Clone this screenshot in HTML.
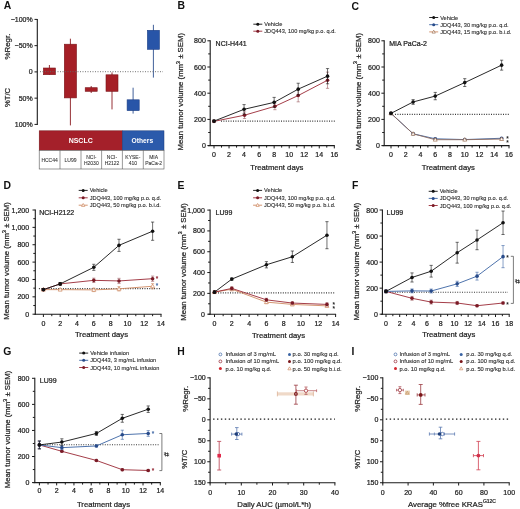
<!DOCTYPE html>
<html><head><meta charset="utf-8"><style>
html,body{margin:0;padding:0;background:#fff;}
body{width:520px;height:509px;overflow:hidden;font-family:"Liberation Sans", sans-serif;}
svg{display:block;will-change:transform;}

</style></head><body>
<svg width="520" height="509" viewBox="0 0 520 509" font-family='"Liberation Sans", sans-serif'>
<rect width="520" height="509" fill="#fff"/>
<text x="3.70" y="9.46" font-size="10.4" font-weight="bold" fill="#111">A</text>
<line x1="37.30" y1="18.90" x2="37.30" y2="124.90" stroke="#1a1a1a" stroke-width="1.1" stroke-linecap="butt"/>
<line x1="34.50" y1="19.40" x2="37.30" y2="19.40" stroke="#1a1a1a" stroke-width="1.0" stroke-linecap="butt"/>
<text x="32.70" y="21.92" font-size="7.0" text-anchor="end" font-weight="normal" fill="#222222" stroke="#222222" stroke-width="0.22">−100%</text>
<line x1="34.50" y1="45.65" x2="37.30" y2="45.65" stroke="#1a1a1a" stroke-width="1.0" stroke-linecap="butt"/>
<text x="32.70" y="48.17" font-size="7.0" text-anchor="end" font-weight="normal" fill="#222222" stroke="#222222" stroke-width="0.22">−50%</text>
<line x1="34.50" y1="71.90" x2="37.30" y2="71.90" stroke="#1a1a1a" stroke-width="1.0" stroke-linecap="butt"/>
<text x="32.70" y="74.42" font-size="7.0" text-anchor="end" font-weight="normal" fill="#222222" stroke="#222222" stroke-width="0.22">0</text>
<line x1="34.50" y1="98.15" x2="37.30" y2="98.15" stroke="#1a1a1a" stroke-width="1.0" stroke-linecap="butt"/>
<text x="32.70" y="100.67" font-size="7.0" text-anchor="end" font-weight="normal" fill="#222222" stroke="#222222" stroke-width="0.22">50%</text>
<line x1="34.50" y1="124.40" x2="37.30" y2="124.40" stroke="#1a1a1a" stroke-width="1.0" stroke-linecap="butt"/>
<text x="32.70" y="126.92" font-size="7.0" text-anchor="end" font-weight="normal" fill="#222222" stroke="#222222" stroke-width="0.22">100%</text>
<text x="7.30" y="49.44" font-size="7.9" text-anchor="middle" font-weight="normal" fill="#222222" stroke="#222222" stroke-width="0.22" transform="rotate(-90 7.30 46.60)">%Regr.</text>
<text x="7.30" y="100.24" font-size="7.6" text-anchor="middle" font-weight="normal" fill="#222222" stroke="#222222" stroke-width="0.22" transform="rotate(-90 7.30 97.50)">%T/C</text>
<line x1="49.40" y1="65.00" x2="49.40" y2="74.70" stroke="#8a1a20" stroke-width="0.9" stroke-linecap="butt"/>
<rect x="43.40" y="68.00" width="12.00" height="6.70" fill="#a51f26" stroke="#7a1519" stroke-width="0.6"/>
<line x1="70.40" y1="38.70" x2="70.40" y2="125.40" stroke="#8a1a20" stroke-width="0.9" stroke-linecap="butt"/>
<rect x="64.30" y="44.20" width="12.20" height="53.70" fill="#a51f26" stroke="#7a1519" stroke-width="0.6"/>
<line x1="91.20" y1="86.00" x2="91.20" y2="93.00" stroke="#8a1a20" stroke-width="0.9" stroke-linecap="butt"/>
<rect x="85.20" y="87.70" width="12.00" height="3.60" fill="#a51f26" stroke="#7a1519" stroke-width="0.6"/>
<line x1="112.00" y1="72.40" x2="112.00" y2="109.40" stroke="#8a1a20" stroke-width="0.9" stroke-linecap="butt"/>
<rect x="106.00" y="74.80" width="12.00" height="16.50" fill="#a51f26" stroke="#7a1519" stroke-width="0.6"/>
<line x1="133.10" y1="87.70" x2="133.10" y2="113.60" stroke="#2d4f8f" stroke-width="0.9" stroke-linecap="butt"/>
<rect x="127.10" y="99.80" width="12.10" height="10.80" fill="#2855a8" stroke="#1c3f85" stroke-width="0.6"/>
<line x1="153.40" y1="24.80" x2="153.40" y2="77.60" stroke="#2d4f8f" stroke-width="0.9" stroke-linecap="butt"/>
<rect x="147.40" y="30.30" width="12.00" height="19.00" fill="#2855a8" stroke="#1c3f85" stroke-width="0.6"/>
<line x1="40.00" y1="71.70" x2="163.00" y2="71.70" stroke="#666" stroke-width="0.9" stroke-linecap="butt" stroke-dasharray="1,1.5"/>
<rect x="39.20" y="130.80" width="83.10" height="19.50" fill="#a4202a" stroke="#6e1015" stroke-width="0.5"/>
<rect x="122.30" y="130.80" width="41.70" height="19.50" fill="#2b5aab" stroke="#1b3a78" stroke-width="0.5"/>
<text x="80.70" y="143.12" font-size="7.0" text-anchor="middle" font-weight="bold" fill="#fff" stroke="#fff" stroke-width="0">NSCLC</text>
<text x="142.40" y="142.81" font-size="6.7" text-anchor="middle" font-weight="bold" fill="#fff" stroke="#fff" stroke-width="0">Others</text>
<rect x="39.20" y="150.30" width="124.80" height="18.70" fill="#fff" stroke="#555" stroke-width="0.6"/>
<line x1="60.00" y1="150.30" x2="60.00" y2="169.00" stroke="#555" stroke-width="0.6" stroke-linecap="butt"/>
<line x1="81.00" y1="150.30" x2="81.00" y2="169.00" stroke="#555" stroke-width="0.6" stroke-linecap="butt"/>
<line x1="101.60" y1="150.30" x2="101.60" y2="169.00" stroke="#555" stroke-width="0.6" stroke-linecap="butt"/>
<line x1="122.40" y1="150.30" x2="122.40" y2="169.00" stroke="#555" stroke-width="0.6" stroke-linecap="butt"/>
<line x1="143.30" y1="150.30" x2="143.30" y2="169.00" stroke="#555" stroke-width="0.6" stroke-linecap="butt"/>
<text x="49.60" y="161.80" font-size="5.0" text-anchor="middle" font-weight="normal" fill="#333" stroke="#333" stroke-width="0.08">HCC44</text>
<text x="70.50" y="161.80" font-size="5.0" text-anchor="middle" font-weight="normal" fill="#333" stroke="#333" stroke-width="0.08">LU99</text>
<text x="91.30" y="158.80" font-size="5.0" text-anchor="middle" font-weight="normal" fill="#333" stroke="#333" stroke-width="0.08">NCI-</text>
<text x="91.30" y="164.60" font-size="5.0" text-anchor="middle" font-weight="normal" fill="#333" stroke="#333" stroke-width="0.08">H2030</text>
<text x="112.00" y="158.80" font-size="5.0" text-anchor="middle" font-weight="normal" fill="#333" stroke="#333" stroke-width="0.08">NCI-</text>
<text x="112.00" y="164.60" font-size="5.0" text-anchor="middle" font-weight="normal" fill="#333" stroke="#333" stroke-width="0.08">H2122</text>
<text x="132.85" y="158.80" font-size="5.0" text-anchor="middle" font-weight="normal" fill="#333" stroke="#333" stroke-width="0.08">KYSE-</text>
<text x="132.85" y="164.60" font-size="5.0" text-anchor="middle" font-weight="normal" fill="#333" stroke="#333" stroke-width="0.08">410</text>
<text x="153.65" y="158.80" font-size="5.0" text-anchor="middle" font-weight="normal" fill="#333" stroke="#333" stroke-width="0.08">MIA</text>
<text x="153.65" y="164.60" font-size="5.0" text-anchor="middle" font-weight="normal" fill="#333" stroke="#333" stroke-width="0.08">PaCa-2</text>
<text x="177.50" y="9.46" font-size="10.4" font-weight="bold" fill="#111">B</text>
<line x1="210.20" y1="40.30" x2="210.20" y2="146.10" stroke="#1a1a1a" stroke-width="1.1" stroke-linecap="butt"/>
<line x1="207.90" y1="145.60" x2="334.80" y2="145.60" stroke="#1a1a1a" stroke-width="1.1" stroke-linecap="butt"/>
<line x1="207.40" y1="145.60" x2="210.20" y2="145.60" stroke="#1a1a1a" stroke-width="1.0" stroke-linecap="butt"/>
<text x="205.80" y="148.12" font-size="7.0" text-anchor="end" font-weight="normal" fill="#222222" stroke="#222222" stroke-width="0.22">0</text>
<line x1="208.20" y1="132.50" x2="210.20" y2="132.50" stroke="#1a1a1a" stroke-width="1.0" stroke-linecap="butt"/>
<line x1="207.40" y1="119.40" x2="210.20" y2="119.40" stroke="#1a1a1a" stroke-width="1.0" stroke-linecap="butt"/>
<text x="205.80" y="121.92" font-size="7.0" text-anchor="end" font-weight="normal" fill="#222222" stroke="#222222" stroke-width="0.22">200</text>
<line x1="208.20" y1="106.30" x2="210.20" y2="106.30" stroke="#1a1a1a" stroke-width="1.0" stroke-linecap="butt"/>
<line x1="207.40" y1="93.20" x2="210.20" y2="93.20" stroke="#1a1a1a" stroke-width="1.0" stroke-linecap="butt"/>
<text x="205.80" y="95.72" font-size="7.0" text-anchor="end" font-weight="normal" fill="#222222" stroke="#222222" stroke-width="0.22">400</text>
<line x1="208.20" y1="80.10" x2="210.20" y2="80.10" stroke="#1a1a1a" stroke-width="1.0" stroke-linecap="butt"/>
<line x1="207.40" y1="67.00" x2="210.20" y2="67.00" stroke="#1a1a1a" stroke-width="1.0" stroke-linecap="butt"/>
<text x="205.80" y="69.52" font-size="7.0" text-anchor="end" font-weight="normal" fill="#222222" stroke="#222222" stroke-width="0.22">600</text>
<line x1="208.20" y1="53.90" x2="210.20" y2="53.90" stroke="#1a1a1a" stroke-width="1.0" stroke-linecap="butt"/>
<line x1="207.40" y1="40.80" x2="210.20" y2="40.80" stroke="#1a1a1a" stroke-width="1.0" stroke-linecap="butt"/>
<text x="205.80" y="43.32" font-size="7.0" text-anchor="end" font-weight="normal" fill="#222222" stroke="#222222" stroke-width="0.22">800</text>
<line x1="214.00" y1="145.60" x2="214.00" y2="148.40" stroke="#1a1a1a" stroke-width="1.0" stroke-linecap="butt"/>
<text x="214.00" y="157.12" font-size="7.0" text-anchor="middle" font-weight="normal" fill="#222222" stroke="#222222" stroke-width="0.22">0</text>
<line x1="221.52" y1="145.60" x2="221.52" y2="147.60" stroke="#1a1a1a" stroke-width="1.0" stroke-linecap="butt"/>
<line x1="229.04" y1="145.60" x2="229.04" y2="148.40" stroke="#1a1a1a" stroke-width="1.0" stroke-linecap="butt"/>
<text x="229.04" y="157.12" font-size="7.0" text-anchor="middle" font-weight="normal" fill="#222222" stroke="#222222" stroke-width="0.22">2</text>
<line x1="236.56" y1="145.60" x2="236.56" y2="147.60" stroke="#1a1a1a" stroke-width="1.0" stroke-linecap="butt"/>
<line x1="244.07" y1="145.60" x2="244.07" y2="148.40" stroke="#1a1a1a" stroke-width="1.0" stroke-linecap="butt"/>
<text x="244.07" y="157.12" font-size="7.0" text-anchor="middle" font-weight="normal" fill="#222222" stroke="#222222" stroke-width="0.22">4</text>
<line x1="251.59" y1="145.60" x2="251.59" y2="147.60" stroke="#1a1a1a" stroke-width="1.0" stroke-linecap="butt"/>
<line x1="259.11" y1="145.60" x2="259.11" y2="148.40" stroke="#1a1a1a" stroke-width="1.0" stroke-linecap="butt"/>
<text x="259.11" y="157.12" font-size="7.0" text-anchor="middle" font-weight="normal" fill="#222222" stroke="#222222" stroke-width="0.22">6</text>
<line x1="266.63" y1="145.60" x2="266.63" y2="147.60" stroke="#1a1a1a" stroke-width="1.0" stroke-linecap="butt"/>
<line x1="274.15" y1="145.60" x2="274.15" y2="148.40" stroke="#1a1a1a" stroke-width="1.0" stroke-linecap="butt"/>
<text x="274.15" y="157.12" font-size="7.0" text-anchor="middle" font-weight="normal" fill="#222222" stroke="#222222" stroke-width="0.22">8</text>
<line x1="281.67" y1="145.60" x2="281.67" y2="147.60" stroke="#1a1a1a" stroke-width="1.0" stroke-linecap="butt"/>
<line x1="289.19" y1="145.60" x2="289.19" y2="148.40" stroke="#1a1a1a" stroke-width="1.0" stroke-linecap="butt"/>
<text x="289.19" y="157.12" font-size="7.0" text-anchor="middle" font-weight="normal" fill="#222222" stroke="#222222" stroke-width="0.22">10</text>
<line x1="296.71" y1="145.60" x2="296.71" y2="147.60" stroke="#1a1a1a" stroke-width="1.0" stroke-linecap="butt"/>
<line x1="304.23" y1="145.60" x2="304.23" y2="148.40" stroke="#1a1a1a" stroke-width="1.0" stroke-linecap="butt"/>
<text x="304.23" y="157.12" font-size="7.0" text-anchor="middle" font-weight="normal" fill="#222222" stroke="#222222" stroke-width="0.22">12</text>
<line x1="311.74" y1="145.60" x2="311.74" y2="147.60" stroke="#1a1a1a" stroke-width="1.0" stroke-linecap="butt"/>
<line x1="319.26" y1="145.60" x2="319.26" y2="148.40" stroke="#1a1a1a" stroke-width="1.0" stroke-linecap="butt"/>
<text x="319.26" y="157.12" font-size="7.0" text-anchor="middle" font-weight="normal" fill="#222222" stroke="#222222" stroke-width="0.22">14</text>
<line x1="326.78" y1="145.60" x2="326.78" y2="147.60" stroke="#1a1a1a" stroke-width="1.0" stroke-linecap="butt"/>
<line x1="334.30" y1="145.60" x2="334.30" y2="148.40" stroke="#1a1a1a" stroke-width="1.0" stroke-linecap="butt"/>
<text x="334.30" y="157.12" font-size="7.0" text-anchor="middle" font-weight="normal" fill="#222222" stroke="#222222" stroke-width="0.22">16</text>
<text x="180.40" y="94.51" font-size="7.8" text-anchor="middle" font-weight="normal" fill="#222222" stroke="#222222" stroke-width="0.22" transform="rotate(-90 180.40 91.70)">Mean tumor volume (mm<tspan font-size="5.2" dy="-3.2">3</tspan><tspan dy="3.2"> ± SEM)</tspan></text>
<text x="276.80" y="169.60" font-size="7.7" text-anchor="middle" font-weight="normal" fill="#222222" stroke="#222222" stroke-width="0.22">Treatment days</text>
<text x="215.60" y="45.92" font-size="7.0" text-anchor="start" font-weight="normal" fill="#222222" stroke="#222222" stroke-width="0.22">NCI-H441</text>
<line x1="221.00" y1="121.10" x2="335.00" y2="121.10" stroke="#3a3a3a" stroke-width="1.1" stroke-linecap="butt" stroke-dasharray="1,1.4"/>
<polyline points="214.00,121.36 244.53,115.21 274.90,106.30 298.21,95.56 327.53,80.23" fill="none" stroke="#9a2834" stroke-width="0.9"/>
<line x1="214.00" y1="120.32" x2="214.00" y2="122.41" stroke="#9a5a60" stroke-width="0.6" stroke-linecap="butt"/>
<line x1="212.40" y1="120.32" x2="215.60" y2="120.32" stroke="#9a5a60" stroke-width="0.6" stroke-linecap="butt"/>
<line x1="212.40" y1="122.41" x2="215.60" y2="122.41" stroke="#9a5a60" stroke-width="0.6" stroke-linecap="butt"/>
<line x1="244.53" y1="111.93" x2="244.53" y2="118.48" stroke="#9a5a60" stroke-width="0.6" stroke-linecap="butt"/>
<line x1="242.93" y1="111.93" x2="246.13" y2="111.93" stroke="#9a5a60" stroke-width="0.6" stroke-linecap="butt"/>
<line x1="242.93" y1="118.48" x2="246.13" y2="118.48" stroke="#9a5a60" stroke-width="0.6" stroke-linecap="butt"/>
<line x1="274.90" y1="102.89" x2="274.90" y2="109.71" stroke="#9a5a60" stroke-width="0.6" stroke-linecap="butt"/>
<line x1="273.30" y1="102.89" x2="276.50" y2="102.89" stroke="#9a5a60" stroke-width="0.6" stroke-linecap="butt"/>
<line x1="273.30" y1="109.71" x2="276.50" y2="109.71" stroke="#9a5a60" stroke-width="0.6" stroke-linecap="butt"/>
<line x1="298.21" y1="89.27" x2="298.21" y2="101.85" stroke="#9a5a60" stroke-width="0.6" stroke-linecap="butt"/>
<line x1="296.61" y1="89.27" x2="299.81" y2="89.27" stroke="#9a5a60" stroke-width="0.6" stroke-linecap="butt"/>
<line x1="296.61" y1="101.85" x2="299.81" y2="101.85" stroke="#9a5a60" stroke-width="0.6" stroke-linecap="butt"/>
<line x1="327.53" y1="72.11" x2="327.53" y2="88.35" stroke="#9a5a60" stroke-width="0.6" stroke-linecap="butt"/>
<line x1="325.93" y1="72.11" x2="329.13" y2="72.11" stroke="#9a5a60" stroke-width="0.6" stroke-linecap="butt"/>
<line x1="325.93" y1="88.35" x2="329.13" y2="88.35" stroke="#9a5a60" stroke-width="0.6" stroke-linecap="butt"/>
<circle cx="214.00" cy="121.36" r="1.8" fill="#7a1a26"/>
<circle cx="244.53" cy="115.21" r="1.8" fill="#7a1a26"/>
<circle cx="274.90" cy="106.30" r="1.8" fill="#7a1a26"/>
<circle cx="298.21" cy="95.56" r="1.8" fill="#7a1a26"/>
<circle cx="327.53" cy="80.23" r="1.8" fill="#7a1a26"/>
<polyline points="214.00,121.10 244.07,109.31 274.15,102.37 298.21,89.14 327.53,76.17" fill="none" stroke="#111111" stroke-width="0.9"/>
<line x1="214.00" y1="120.05" x2="214.00" y2="122.15" stroke="#111111" stroke-width="0.6" stroke-linecap="butt"/>
<line x1="212.40" y1="120.05" x2="215.60" y2="120.05" stroke="#111111" stroke-width="0.6" stroke-linecap="butt"/>
<line x1="212.40" y1="122.15" x2="215.60" y2="122.15" stroke="#111111" stroke-width="0.6" stroke-linecap="butt"/>
<line x1="244.07" y1="104.60" x2="244.07" y2="114.03" stroke="#111111" stroke-width="0.6" stroke-linecap="butt"/>
<line x1="242.47" y1="104.60" x2="245.67" y2="104.60" stroke="#111111" stroke-width="0.6" stroke-linecap="butt"/>
<line x1="242.47" y1="114.03" x2="245.67" y2="114.03" stroke="#111111" stroke-width="0.6" stroke-linecap="butt"/>
<line x1="274.15" y1="97.39" x2="274.15" y2="107.35" stroke="#111111" stroke-width="0.6" stroke-linecap="butt"/>
<line x1="272.55" y1="97.39" x2="275.75" y2="97.39" stroke="#111111" stroke-width="0.6" stroke-linecap="butt"/>
<line x1="272.55" y1="107.35" x2="275.75" y2="107.35" stroke="#111111" stroke-width="0.6" stroke-linecap="butt"/>
<line x1="298.21" y1="83.24" x2="298.21" y2="95.03" stroke="#111111" stroke-width="0.6" stroke-linecap="butt"/>
<line x1="296.61" y1="83.24" x2="299.81" y2="83.24" stroke="#111111" stroke-width="0.6" stroke-linecap="butt"/>
<line x1="296.61" y1="95.03" x2="299.81" y2="95.03" stroke="#111111" stroke-width="0.6" stroke-linecap="butt"/>
<line x1="327.53" y1="68.57" x2="327.53" y2="83.77" stroke="#111111" stroke-width="0.6" stroke-linecap="butt"/>
<line x1="325.93" y1="68.57" x2="329.13" y2="68.57" stroke="#111111" stroke-width="0.6" stroke-linecap="butt"/>
<line x1="325.93" y1="83.77" x2="329.13" y2="83.77" stroke="#111111" stroke-width="0.6" stroke-linecap="butt"/>
<circle cx="214.00" cy="121.10" r="1.8" fill="#111111"/>
<circle cx="244.07" cy="109.31" r="1.8" fill="#111111"/>
<circle cx="274.15" cy="102.37" r="1.8" fill="#111111"/>
<circle cx="298.21" cy="89.14" r="1.8" fill="#111111"/>
<circle cx="327.53" cy="76.17" r="1.8" fill="#111111"/>
<line x1="253.30" y1="24.20" x2="262.30" y2="24.20" stroke="#111111" stroke-width="0.9" stroke-linecap="butt"/>
<circle cx="257.80" cy="24.20" r="1.5" fill="#111111"/>
<text x="264.30" y="26.22" font-size="5.6" text-anchor="start" font-weight="normal" fill="#2e2e2e" stroke="#2e2e2e" stroke-width="0.12">Vehicle</text>
<line x1="253.30" y1="31.20" x2="262.30" y2="31.20" stroke="#9a2834" stroke-width="0.9" stroke-linecap="butt"/>
<circle cx="257.80" cy="31.20" r="1.5" fill="#7a1a26"/>
<text x="264.30" y="33.22" font-size="5.6" text-anchor="start" font-weight="normal" fill="#2e2e2e" stroke="#2e2e2e" stroke-width="0.12">JDQ443, 100 mg/kg p.o. q.d.</text>
<text x="351.60" y="9.76" font-size="10.4" font-weight="bold" fill="#111">C</text>
<line x1="384.20" y1="40.30" x2="384.20" y2="146.10" stroke="#1a1a1a" stroke-width="1.1" stroke-linecap="butt"/>
<line x1="382.50" y1="145.60" x2="509.50" y2="145.60" stroke="#1a1a1a" stroke-width="1.1" stroke-linecap="butt"/>
<line x1="381.40" y1="145.60" x2="384.20" y2="145.60" stroke="#1a1a1a" stroke-width="1.0" stroke-linecap="butt"/>
<text x="379.80" y="148.12" font-size="7.0" text-anchor="end" font-weight="normal" fill="#222222" stroke="#222222" stroke-width="0.22">0</text>
<line x1="382.20" y1="132.50" x2="384.20" y2="132.50" stroke="#1a1a1a" stroke-width="1.0" stroke-linecap="butt"/>
<line x1="381.40" y1="119.40" x2="384.20" y2="119.40" stroke="#1a1a1a" stroke-width="1.0" stroke-linecap="butt"/>
<text x="379.80" y="121.92" font-size="7.0" text-anchor="end" font-weight="normal" fill="#222222" stroke="#222222" stroke-width="0.22">200</text>
<line x1="382.20" y1="106.30" x2="384.20" y2="106.30" stroke="#1a1a1a" stroke-width="1.0" stroke-linecap="butt"/>
<line x1="381.40" y1="93.20" x2="384.20" y2="93.20" stroke="#1a1a1a" stroke-width="1.0" stroke-linecap="butt"/>
<text x="379.80" y="95.72" font-size="7.0" text-anchor="end" font-weight="normal" fill="#222222" stroke="#222222" stroke-width="0.22">400</text>
<line x1="382.20" y1="80.10" x2="384.20" y2="80.10" stroke="#1a1a1a" stroke-width="1.0" stroke-linecap="butt"/>
<line x1="381.40" y1="67.00" x2="384.20" y2="67.00" stroke="#1a1a1a" stroke-width="1.0" stroke-linecap="butt"/>
<text x="379.80" y="69.52" font-size="7.0" text-anchor="end" font-weight="normal" fill="#222222" stroke="#222222" stroke-width="0.22">600</text>
<line x1="382.20" y1="53.90" x2="384.20" y2="53.90" stroke="#1a1a1a" stroke-width="1.0" stroke-linecap="butt"/>
<line x1="381.40" y1="40.80" x2="384.20" y2="40.80" stroke="#1a1a1a" stroke-width="1.0" stroke-linecap="butt"/>
<text x="379.80" y="43.32" font-size="7.0" text-anchor="end" font-weight="normal" fill="#222222" stroke="#222222" stroke-width="0.22">800</text>
<line x1="391.00" y1="145.60" x2="391.00" y2="148.40" stroke="#1a1a1a" stroke-width="1.0" stroke-linecap="butt"/>
<text x="391.00" y="157.12" font-size="7.0" text-anchor="middle" font-weight="normal" fill="#222222" stroke="#222222" stroke-width="0.22">0</text>
<line x1="398.38" y1="145.60" x2="398.38" y2="147.60" stroke="#1a1a1a" stroke-width="1.0" stroke-linecap="butt"/>
<line x1="405.75" y1="145.60" x2="405.75" y2="148.40" stroke="#1a1a1a" stroke-width="1.0" stroke-linecap="butt"/>
<text x="405.75" y="157.12" font-size="7.0" text-anchor="middle" font-weight="normal" fill="#222222" stroke="#222222" stroke-width="0.22">2</text>
<line x1="413.12" y1="145.60" x2="413.12" y2="147.60" stroke="#1a1a1a" stroke-width="1.0" stroke-linecap="butt"/>
<line x1="420.50" y1="145.60" x2="420.50" y2="148.40" stroke="#1a1a1a" stroke-width="1.0" stroke-linecap="butt"/>
<text x="420.50" y="157.12" font-size="7.0" text-anchor="middle" font-weight="normal" fill="#222222" stroke="#222222" stroke-width="0.22">4</text>
<line x1="427.88" y1="145.60" x2="427.88" y2="147.60" stroke="#1a1a1a" stroke-width="1.0" stroke-linecap="butt"/>
<line x1="435.25" y1="145.60" x2="435.25" y2="148.40" stroke="#1a1a1a" stroke-width="1.0" stroke-linecap="butt"/>
<text x="435.25" y="157.12" font-size="7.0" text-anchor="middle" font-weight="normal" fill="#222222" stroke="#222222" stroke-width="0.22">6</text>
<line x1="442.62" y1="145.60" x2="442.62" y2="147.60" stroke="#1a1a1a" stroke-width="1.0" stroke-linecap="butt"/>
<line x1="450.00" y1="145.60" x2="450.00" y2="148.40" stroke="#1a1a1a" stroke-width="1.0" stroke-linecap="butt"/>
<text x="450.00" y="157.12" font-size="7.0" text-anchor="middle" font-weight="normal" fill="#222222" stroke="#222222" stroke-width="0.22">8</text>
<line x1="457.38" y1="145.60" x2="457.38" y2="147.60" stroke="#1a1a1a" stroke-width="1.0" stroke-linecap="butt"/>
<line x1="464.75" y1="145.60" x2="464.75" y2="148.40" stroke="#1a1a1a" stroke-width="1.0" stroke-linecap="butt"/>
<text x="464.75" y="157.12" font-size="7.0" text-anchor="middle" font-weight="normal" fill="#222222" stroke="#222222" stroke-width="0.22">10</text>
<line x1="472.12" y1="145.60" x2="472.12" y2="147.60" stroke="#1a1a1a" stroke-width="1.0" stroke-linecap="butt"/>
<line x1="479.50" y1="145.60" x2="479.50" y2="148.40" stroke="#1a1a1a" stroke-width="1.0" stroke-linecap="butt"/>
<text x="479.50" y="157.12" font-size="7.0" text-anchor="middle" font-weight="normal" fill="#222222" stroke="#222222" stroke-width="0.22">12</text>
<line x1="486.88" y1="145.60" x2="486.88" y2="147.60" stroke="#1a1a1a" stroke-width="1.0" stroke-linecap="butt"/>
<line x1="494.25" y1="145.60" x2="494.25" y2="148.40" stroke="#1a1a1a" stroke-width="1.0" stroke-linecap="butt"/>
<text x="494.25" y="157.12" font-size="7.0" text-anchor="middle" font-weight="normal" fill="#222222" stroke="#222222" stroke-width="0.22">14</text>
<line x1="501.62" y1="145.60" x2="501.62" y2="147.60" stroke="#1a1a1a" stroke-width="1.0" stroke-linecap="butt"/>
<line x1="509.00" y1="145.60" x2="509.00" y2="148.40" stroke="#1a1a1a" stroke-width="1.0" stroke-linecap="butt"/>
<text x="509.00" y="157.12" font-size="7.0" text-anchor="middle" font-weight="normal" fill="#222222" stroke="#222222" stroke-width="0.22">16</text>
<text x="357.80" y="94.51" font-size="7.8" text-anchor="middle" font-weight="normal" fill="#222222" stroke="#222222" stroke-width="0.22" transform="rotate(-90 357.80 91.70)">Mean tumor volume (mm<tspan font-size="5.2" dy="-3.2">3</tspan><tspan dy="3.2"> ± SEM)</tspan></text>
<text x="448.30" y="169.50" font-size="7.7" text-anchor="middle" font-weight="normal" fill="#222222" stroke="#222222" stroke-width="0.22">Treatment days</text>
<text x="389.20" y="45.72" font-size="7.0" text-anchor="start" font-weight="normal" fill="#222222" stroke="#222222" stroke-width="0.22">MIA PaCa-2</text>
<line x1="395.00" y1="114.40" x2="509.00" y2="114.40" stroke="#3a3a3a" stroke-width="1.1" stroke-linecap="butt" stroke-dasharray="1,1.4"/>
<polyline points="391.00,113.37 413.12,133.81 435.25,138.79 464.75,139.57 501.62,138.26" fill="none" stroke="#3a63a3" stroke-width="0.9"/>
<line x1="391.00" y1="112.33" x2="391.00" y2="114.42" stroke="#3a63a3" stroke-width="0.6" stroke-linecap="butt"/>
<line x1="389.40" y1="112.33" x2="392.60" y2="112.33" stroke="#3a63a3" stroke-width="0.6" stroke-linecap="butt"/>
<line x1="389.40" y1="114.42" x2="392.60" y2="114.42" stroke="#3a63a3" stroke-width="0.6" stroke-linecap="butt"/>
<line x1="413.12" y1="132.76" x2="413.12" y2="134.86" stroke="#3a63a3" stroke-width="0.6" stroke-linecap="butt"/>
<line x1="411.52" y1="132.76" x2="414.73" y2="132.76" stroke="#3a63a3" stroke-width="0.6" stroke-linecap="butt"/>
<line x1="411.52" y1="134.86" x2="414.73" y2="134.86" stroke="#3a63a3" stroke-width="0.6" stroke-linecap="butt"/>
<line x1="435.25" y1="138.00" x2="435.25" y2="139.57" stroke="#3a63a3" stroke-width="0.6" stroke-linecap="butt"/>
<line x1="433.65" y1="138.00" x2="436.85" y2="138.00" stroke="#3a63a3" stroke-width="0.6" stroke-linecap="butt"/>
<line x1="433.65" y1="139.57" x2="436.85" y2="139.57" stroke="#3a63a3" stroke-width="0.6" stroke-linecap="butt"/>
<line x1="464.75" y1="138.92" x2="464.75" y2="140.23" stroke="#3a63a3" stroke-width="0.6" stroke-linecap="butt"/>
<line x1="463.15" y1="138.92" x2="466.35" y2="138.92" stroke="#3a63a3" stroke-width="0.6" stroke-linecap="butt"/>
<line x1="463.15" y1="140.23" x2="466.35" y2="140.23" stroke="#3a63a3" stroke-width="0.6" stroke-linecap="butt"/>
<line x1="501.62" y1="137.48" x2="501.62" y2="139.05" stroke="#3a63a3" stroke-width="0.6" stroke-linecap="butt"/>
<line x1="500.02" y1="137.48" x2="503.23" y2="137.48" stroke="#3a63a3" stroke-width="0.6" stroke-linecap="butt"/>
<line x1="500.02" y1="139.05" x2="503.23" y2="139.05" stroke="#3a63a3" stroke-width="0.6" stroke-linecap="butt"/>
<circle cx="391.00" cy="113.37" r="1.8" fill="#284b8a"/>
<circle cx="413.12" cy="133.81" r="1.8" fill="#284b8a"/>
<circle cx="435.25" cy="138.79" r="1.8" fill="#284b8a"/>
<circle cx="464.75" cy="139.57" r="1.8" fill="#284b8a"/>
<circle cx="501.62" cy="138.26" r="1.8" fill="#284b8a"/>
<polyline points="391.00,113.37 413.12,133.81 435.25,139.70 464.75,139.70 501.62,139.05" fill="none" stroke="#8c6a5e" stroke-width="0.9"/>
<line x1="391.00" y1="112.33" x2="391.00" y2="114.42" stroke="#8a6a50" stroke-width="0.6" stroke-linecap="butt"/>
<line x1="389.40" y1="112.33" x2="392.60" y2="112.33" stroke="#8a6a50" stroke-width="0.6" stroke-linecap="butt"/>
<line x1="389.40" y1="114.42" x2="392.60" y2="114.42" stroke="#8a6a50" stroke-width="0.6" stroke-linecap="butt"/>
<line x1="413.12" y1="132.76" x2="413.12" y2="134.86" stroke="#8a6a50" stroke-width="0.6" stroke-linecap="butt"/>
<line x1="411.52" y1="132.76" x2="414.73" y2="132.76" stroke="#8a6a50" stroke-width="0.6" stroke-linecap="butt"/>
<line x1="411.52" y1="134.86" x2="414.73" y2="134.86" stroke="#8a6a50" stroke-width="0.6" stroke-linecap="butt"/>
<line x1="435.25" y1="138.92" x2="435.25" y2="140.49" stroke="#8a6a50" stroke-width="0.6" stroke-linecap="butt"/>
<line x1="433.65" y1="138.92" x2="436.85" y2="138.92" stroke="#8a6a50" stroke-width="0.6" stroke-linecap="butt"/>
<line x1="433.65" y1="140.49" x2="436.85" y2="140.49" stroke="#8a6a50" stroke-width="0.6" stroke-linecap="butt"/>
<line x1="464.75" y1="139.05" x2="464.75" y2="140.36" stroke="#8a6a50" stroke-width="0.6" stroke-linecap="butt"/>
<line x1="463.15" y1="139.05" x2="466.35" y2="139.05" stroke="#8a6a50" stroke-width="0.6" stroke-linecap="butt"/>
<line x1="463.15" y1="140.36" x2="466.35" y2="140.36" stroke="#8a6a50" stroke-width="0.6" stroke-linecap="butt"/>
<line x1="501.62" y1="138.26" x2="501.62" y2="139.84" stroke="#8a6a50" stroke-width="0.6" stroke-linecap="butt"/>
<line x1="500.02" y1="138.26" x2="503.23" y2="138.26" stroke="#8a6a50" stroke-width="0.6" stroke-linecap="butt"/>
<line x1="500.02" y1="139.84" x2="503.23" y2="139.84" stroke="#8a6a50" stroke-width="0.6" stroke-linecap="butt"/>
<polygon points="391.00,111.30 389.03,114.82 392.97,114.82" fill="#fff" stroke="#a07458" stroke-width="0.7"/>
<polygon points="413.12,131.74 411.16,135.26 415.09,135.26" fill="#fff" stroke="#a07458" stroke-width="0.7"/>
<polygon points="435.25,137.63 433.28,141.15 437.22,141.15" fill="#fff" stroke="#a07458" stroke-width="0.7"/>
<polygon points="464.75,137.63 462.78,141.15 466.72,141.15" fill="#fff" stroke="#a07458" stroke-width="0.7"/>
<polygon points="501.62,136.98 499.66,140.50 503.59,140.50" fill="#fff" stroke="#a07458" stroke-width="0.7"/>
<polyline points="391.00,113.37 413.12,101.98 435.25,96.08 464.75,82.59 501.62,65.17" fill="none" stroke="#111111" stroke-width="0.9"/>
<line x1="391.00" y1="112.33" x2="391.00" y2="114.42" stroke="#111111" stroke-width="0.6" stroke-linecap="butt"/>
<line x1="389.40" y1="112.33" x2="392.60" y2="112.33" stroke="#111111" stroke-width="0.6" stroke-linecap="butt"/>
<line x1="389.40" y1="114.42" x2="392.60" y2="114.42" stroke="#111111" stroke-width="0.6" stroke-linecap="butt"/>
<line x1="413.12" y1="99.62" x2="413.12" y2="104.33" stroke="#111111" stroke-width="0.6" stroke-linecap="butt"/>
<line x1="411.52" y1="99.62" x2="414.73" y2="99.62" stroke="#111111" stroke-width="0.6" stroke-linecap="butt"/>
<line x1="411.52" y1="104.33" x2="414.73" y2="104.33" stroke="#111111" stroke-width="0.6" stroke-linecap="butt"/>
<line x1="435.25" y1="92.41" x2="435.25" y2="99.75" stroke="#111111" stroke-width="0.6" stroke-linecap="butt"/>
<line x1="433.65" y1="92.41" x2="436.85" y2="92.41" stroke="#111111" stroke-width="0.6" stroke-linecap="butt"/>
<line x1="433.65" y1="99.75" x2="436.85" y2="99.75" stroke="#111111" stroke-width="0.6" stroke-linecap="butt"/>
<line x1="464.75" y1="78.66" x2="464.75" y2="86.52" stroke="#111111" stroke-width="0.6" stroke-linecap="butt"/>
<line x1="463.15" y1="78.66" x2="466.35" y2="78.66" stroke="#111111" stroke-width="0.6" stroke-linecap="butt"/>
<line x1="463.15" y1="86.52" x2="466.35" y2="86.52" stroke="#111111" stroke-width="0.6" stroke-linecap="butt"/>
<line x1="501.62" y1="60.19" x2="501.62" y2="70.14" stroke="#111111" stroke-width="0.6" stroke-linecap="butt"/>
<line x1="500.02" y1="60.19" x2="503.23" y2="60.19" stroke="#111111" stroke-width="0.6" stroke-linecap="butt"/>
<line x1="500.02" y1="70.14" x2="503.23" y2="70.14" stroke="#111111" stroke-width="0.6" stroke-linecap="butt"/>
<circle cx="391.00" cy="113.37" r="1.8" fill="#111111"/>
<circle cx="413.12" cy="101.98" r="1.8" fill="#111111"/>
<circle cx="435.25" cy="96.08" r="1.8" fill="#111111"/>
<circle cx="464.75" cy="82.59" r="1.8" fill="#111111"/>
<circle cx="501.62" cy="65.17" r="1.8" fill="#111111"/>
<line x1="429.20" y1="17.50" x2="438.20" y2="17.50" stroke="#111111" stroke-width="0.9" stroke-linecap="butt"/>
<circle cx="433.70" cy="17.50" r="1.5" fill="#111111"/>
<text x="440.20" y="19.52" font-size="5.6" text-anchor="start" font-weight="normal" fill="#2e2e2e" stroke="#2e2e2e" stroke-width="0.12">Vehicle</text>
<line x1="429.20" y1="24.70" x2="438.20" y2="24.70" stroke="#3a63a3" stroke-width="0.9" stroke-linecap="butt"/>
<circle cx="433.70" cy="24.70" r="1.5" fill="#284b8a"/>
<text x="440.20" y="26.72" font-size="5.6" text-anchor="start" font-weight="normal" fill="#2e2e2e" stroke="#2e2e2e" stroke-width="0.12">JDQ443, 30 mg/kg p.o. q.d.</text>
<line x1="429.20" y1="31.90" x2="438.20" y2="31.90" stroke="#cf8a62" stroke-width="0.9" stroke-linecap="butt"/>
<polygon points="433.70,30.17 432.06,33.11 435.34,33.11" fill="#fff" stroke="#a07458" stroke-width="0.7"/>
<text x="440.20" y="33.92" font-size="5.6" text-anchor="start" font-weight="normal" fill="#2e2e2e" stroke="#2e2e2e" stroke-width="0.12">JDQ443, 15 mg/kg p.o. b.i.d.</text>
<text x="507.50" y="141.20" font-size="6.4" text-anchor="middle" font-weight="bold" fill="#222" stroke="#222" stroke-width="0">*</text>
<text x="507.50" y="145.20" font-size="6.4" text-anchor="middle" font-weight="bold" fill="#222" stroke="#222" stroke-width="0">*</text>
<text x="3.50" y="188.86" font-size="10.4" font-weight="bold" fill="#111">D</text>
<line x1="35.30" y1="209.50" x2="35.30" y2="314.70" stroke="#1a1a1a" stroke-width="1.1" stroke-linecap="butt"/>
<line x1="34.50" y1="314.20" x2="161.50" y2="314.20" stroke="#1a1a1a" stroke-width="1.1" stroke-linecap="butt"/>
<line x1="32.50" y1="314.20" x2="35.30" y2="314.20" stroke="#1a1a1a" stroke-width="1.0" stroke-linecap="butt"/>
<text x="29.10" y="316.72" font-size="7.0" text-anchor="end" font-weight="normal" fill="#222222" stroke="#222222" stroke-width="0.22">0</text>
<line x1="33.30" y1="305.52" x2="35.30" y2="305.52" stroke="#1a1a1a" stroke-width="1.0" stroke-linecap="butt"/>
<line x1="32.50" y1="296.83" x2="35.30" y2="296.83" stroke="#1a1a1a" stroke-width="1.0" stroke-linecap="butt"/>
<text x="29.10" y="299.35" font-size="7.0" text-anchor="end" font-weight="normal" fill="#222222" stroke="#222222" stroke-width="0.22">200</text>
<line x1="33.30" y1="288.15" x2="35.30" y2="288.15" stroke="#1a1a1a" stroke-width="1.0" stroke-linecap="butt"/>
<line x1="32.50" y1="279.47" x2="35.30" y2="279.47" stroke="#1a1a1a" stroke-width="1.0" stroke-linecap="butt"/>
<text x="29.10" y="281.99" font-size="7.0" text-anchor="end" font-weight="normal" fill="#222222" stroke="#222222" stroke-width="0.22">400</text>
<line x1="33.30" y1="270.78" x2="35.30" y2="270.78" stroke="#1a1a1a" stroke-width="1.0" stroke-linecap="butt"/>
<line x1="32.50" y1="262.10" x2="35.30" y2="262.10" stroke="#1a1a1a" stroke-width="1.0" stroke-linecap="butt"/>
<text x="29.10" y="264.62" font-size="7.0" text-anchor="end" font-weight="normal" fill="#222222" stroke="#222222" stroke-width="0.22">600</text>
<line x1="33.30" y1="253.42" x2="35.30" y2="253.42" stroke="#1a1a1a" stroke-width="1.0" stroke-linecap="butt"/>
<line x1="32.50" y1="244.73" x2="35.30" y2="244.73" stroke="#1a1a1a" stroke-width="1.0" stroke-linecap="butt"/>
<text x="29.10" y="247.25" font-size="7.0" text-anchor="end" font-weight="normal" fill="#222222" stroke="#222222" stroke-width="0.22">800</text>
<line x1="33.30" y1="236.05" x2="35.30" y2="236.05" stroke="#1a1a1a" stroke-width="1.0" stroke-linecap="butt"/>
<line x1="32.50" y1="227.37" x2="35.30" y2="227.37" stroke="#1a1a1a" stroke-width="1.0" stroke-linecap="butt"/>
<text x="29.10" y="229.89" font-size="7.0" text-anchor="end" font-weight="normal" fill="#222222" stroke="#222222" stroke-width="0.22">1,000</text>
<line x1="33.30" y1="218.68" x2="35.30" y2="218.68" stroke="#1a1a1a" stroke-width="1.0" stroke-linecap="butt"/>
<line x1="32.50" y1="210.00" x2="35.30" y2="210.00" stroke="#1a1a1a" stroke-width="1.0" stroke-linecap="butt"/>
<text x="29.10" y="212.52" font-size="7.0" text-anchor="end" font-weight="normal" fill="#222222" stroke="#222222" stroke-width="0.22">1,200</text>
<line x1="43.40" y1="314.20" x2="43.40" y2="317.00" stroke="#1a1a1a" stroke-width="1.0" stroke-linecap="butt"/>
<text x="43.40" y="325.52" font-size="7.0" text-anchor="middle" font-weight="normal" fill="#222222" stroke="#222222" stroke-width="0.22">0</text>
<line x1="51.80" y1="314.20" x2="51.80" y2="316.20" stroke="#1a1a1a" stroke-width="1.0" stroke-linecap="butt"/>
<line x1="60.20" y1="314.20" x2="60.20" y2="317.00" stroke="#1a1a1a" stroke-width="1.0" stroke-linecap="butt"/>
<text x="60.20" y="325.52" font-size="7.0" text-anchor="middle" font-weight="normal" fill="#222222" stroke="#222222" stroke-width="0.22">2</text>
<line x1="68.60" y1="314.20" x2="68.60" y2="316.20" stroke="#1a1a1a" stroke-width="1.0" stroke-linecap="butt"/>
<line x1="77.00" y1="314.20" x2="77.00" y2="317.00" stroke="#1a1a1a" stroke-width="1.0" stroke-linecap="butt"/>
<text x="77.00" y="325.52" font-size="7.0" text-anchor="middle" font-weight="normal" fill="#222222" stroke="#222222" stroke-width="0.22">4</text>
<line x1="85.40" y1="314.20" x2="85.40" y2="316.20" stroke="#1a1a1a" stroke-width="1.0" stroke-linecap="butt"/>
<line x1="93.80" y1="314.20" x2="93.80" y2="317.00" stroke="#1a1a1a" stroke-width="1.0" stroke-linecap="butt"/>
<text x="93.80" y="325.52" font-size="7.0" text-anchor="middle" font-weight="normal" fill="#222222" stroke="#222222" stroke-width="0.22">6</text>
<line x1="102.20" y1="314.20" x2="102.20" y2="316.20" stroke="#1a1a1a" stroke-width="1.0" stroke-linecap="butt"/>
<line x1="110.60" y1="314.20" x2="110.60" y2="317.00" stroke="#1a1a1a" stroke-width="1.0" stroke-linecap="butt"/>
<text x="110.60" y="325.52" font-size="7.0" text-anchor="middle" font-weight="normal" fill="#222222" stroke="#222222" stroke-width="0.22">8</text>
<line x1="119.00" y1="314.20" x2="119.00" y2="316.20" stroke="#1a1a1a" stroke-width="1.0" stroke-linecap="butt"/>
<line x1="127.40" y1="314.20" x2="127.40" y2="317.00" stroke="#1a1a1a" stroke-width="1.0" stroke-linecap="butt"/>
<text x="127.40" y="325.52" font-size="7.0" text-anchor="middle" font-weight="normal" fill="#222222" stroke="#222222" stroke-width="0.22">10</text>
<line x1="135.80" y1="314.20" x2="135.80" y2="316.20" stroke="#1a1a1a" stroke-width="1.0" stroke-linecap="butt"/>
<line x1="144.20" y1="314.20" x2="144.20" y2="317.00" stroke="#1a1a1a" stroke-width="1.0" stroke-linecap="butt"/>
<text x="144.20" y="325.52" font-size="7.0" text-anchor="middle" font-weight="normal" fill="#222222" stroke="#222222" stroke-width="0.22">12</text>
<line x1="152.60" y1="314.20" x2="152.60" y2="316.20" stroke="#1a1a1a" stroke-width="1.0" stroke-linecap="butt"/>
<line x1="161.00" y1="314.20" x2="161.00" y2="317.00" stroke="#1a1a1a" stroke-width="1.0" stroke-linecap="butt"/>
<text x="161.00" y="325.52" font-size="7.0" text-anchor="middle" font-weight="normal" fill="#222222" stroke="#222222" stroke-width="0.22">14</text>
<text x="6.40" y="263.71" font-size="7.8" text-anchor="middle" font-weight="normal" fill="#222222" stroke="#222222" stroke-width="0.22" transform="rotate(-90 6.40 260.90)">Mean tumor volume (mm<tspan font-size="5.2" dy="-3.2">3</tspan><tspan dy="3.2"> ± SEM)</tspan></text>
<text x="101.50" y="337.40" font-size="7.7" text-anchor="middle" font-weight="normal" fill="#222222" stroke="#222222" stroke-width="0.22">Treatment days</text>
<text x="39.20" y="214.92" font-size="7.0" text-anchor="start" font-weight="normal" fill="#222222" stroke="#222222" stroke-width="0.22">NCI-H2122</text>
<line x1="38.90" y1="288.60" x2="160.00" y2="288.60" stroke="#3a3a3a" stroke-width="1.1" stroke-linecap="butt" stroke-dasharray="1,1.4"/>
<polyline points="43.40,289.63 60.20,289.63 93.80,289.89 119.00,288.84 152.60,286.24" fill="none" stroke="#cf8a62" stroke-width="0.9"/>
<line x1="43.40" y1="288.76" x2="43.40" y2="290.49" stroke="#cf8a62" stroke-width="0.6" stroke-linecap="butt"/>
<line x1="41.80" y1="288.76" x2="45.00" y2="288.76" stroke="#cf8a62" stroke-width="0.6" stroke-linecap="butt"/>
<line x1="41.80" y1="290.49" x2="45.00" y2="290.49" stroke="#cf8a62" stroke-width="0.6" stroke-linecap="butt"/>
<line x1="60.20" y1="288.58" x2="60.20" y2="290.67" stroke="#cf8a62" stroke-width="0.6" stroke-linecap="butt"/>
<line x1="58.60" y1="288.58" x2="61.80" y2="288.58" stroke="#cf8a62" stroke-width="0.6" stroke-linecap="butt"/>
<line x1="58.60" y1="290.67" x2="61.80" y2="290.67" stroke="#cf8a62" stroke-width="0.6" stroke-linecap="butt"/>
<line x1="93.80" y1="288.15" x2="93.80" y2="291.62" stroke="#cf8a62" stroke-width="0.6" stroke-linecap="butt"/>
<line x1="92.20" y1="288.15" x2="95.40" y2="288.15" stroke="#cf8a62" stroke-width="0.6" stroke-linecap="butt"/>
<line x1="92.20" y1="291.62" x2="95.40" y2="291.62" stroke="#cf8a62" stroke-width="0.6" stroke-linecap="butt"/>
<line x1="119.00" y1="286.67" x2="119.00" y2="291.02" stroke="#cf8a62" stroke-width="0.6" stroke-linecap="butt"/>
<line x1="117.40" y1="286.67" x2="120.60" y2="286.67" stroke="#cf8a62" stroke-width="0.6" stroke-linecap="butt"/>
<line x1="117.40" y1="291.02" x2="120.60" y2="291.02" stroke="#cf8a62" stroke-width="0.6" stroke-linecap="butt"/>
<line x1="152.60" y1="283.63" x2="152.60" y2="288.84" stroke="#cf8a62" stroke-width="0.6" stroke-linecap="butt"/>
<line x1="151.00" y1="283.63" x2="154.20" y2="283.63" stroke="#cf8a62" stroke-width="0.6" stroke-linecap="butt"/>
<line x1="151.00" y1="288.84" x2="154.20" y2="288.84" stroke="#cf8a62" stroke-width="0.6" stroke-linecap="butt"/>
<polygon points="43.40,287.56 41.43,291.08 45.37,291.08" fill="#fff" stroke="#cf8a62" stroke-width="0.7"/>
<polygon points="60.20,287.56 58.23,291.08 62.17,291.08" fill="#fff" stroke="#cf8a62" stroke-width="0.7"/>
<polygon points="93.80,287.82 91.83,291.34 95.77,291.34" fill="#fff" stroke="#cf8a62" stroke-width="0.7"/>
<polygon points="119.00,286.77 117.03,290.29 120.97,290.29" fill="#fff" stroke="#cf8a62" stroke-width="0.7"/>
<polygon points="152.60,284.17 150.63,287.69 154.57,287.69" fill="#fff" stroke="#cf8a62" stroke-width="0.7"/>
<polyline points="43.40,289.63 60.20,283.90 93.80,280.33 119.00,280.94 152.60,278.69" fill="none" stroke="#9a2834" stroke-width="0.9"/>
<line x1="43.40" y1="288.76" x2="43.40" y2="290.49" stroke="#9a5a60" stroke-width="0.6" stroke-linecap="butt"/>
<line x1="41.80" y1="288.76" x2="45.00" y2="288.76" stroke="#9a5a60" stroke-width="0.6" stroke-linecap="butt"/>
<line x1="41.80" y1="290.49" x2="45.00" y2="290.49" stroke="#9a5a60" stroke-width="0.6" stroke-linecap="butt"/>
<line x1="60.20" y1="282.85" x2="60.20" y2="284.94" stroke="#9a5a60" stroke-width="0.6" stroke-linecap="butt"/>
<line x1="58.60" y1="282.85" x2="61.80" y2="282.85" stroke="#9a5a60" stroke-width="0.6" stroke-linecap="butt"/>
<line x1="58.60" y1="284.94" x2="61.80" y2="284.94" stroke="#9a5a60" stroke-width="0.6" stroke-linecap="butt"/>
<line x1="93.80" y1="278.16" x2="93.80" y2="282.51" stroke="#9a5a60" stroke-width="0.6" stroke-linecap="butt"/>
<line x1="92.20" y1="278.16" x2="95.40" y2="278.16" stroke="#9a5a60" stroke-width="0.6" stroke-linecap="butt"/>
<line x1="92.20" y1="282.51" x2="95.40" y2="282.51" stroke="#9a5a60" stroke-width="0.6" stroke-linecap="butt"/>
<line x1="119.00" y1="278.34" x2="119.00" y2="283.55" stroke="#9a5a60" stroke-width="0.6" stroke-linecap="butt"/>
<line x1="117.40" y1="278.34" x2="120.60" y2="278.34" stroke="#9a5a60" stroke-width="0.6" stroke-linecap="butt"/>
<line x1="117.40" y1="283.55" x2="120.60" y2="283.55" stroke="#9a5a60" stroke-width="0.6" stroke-linecap="butt"/>
<line x1="152.60" y1="276.08" x2="152.60" y2="281.29" stroke="#9a5a60" stroke-width="0.6" stroke-linecap="butt"/>
<line x1="151.00" y1="276.08" x2="154.20" y2="276.08" stroke="#9a5a60" stroke-width="0.6" stroke-linecap="butt"/>
<line x1="151.00" y1="281.29" x2="154.20" y2="281.29" stroke="#9a5a60" stroke-width="0.6" stroke-linecap="butt"/>
<circle cx="43.40" cy="289.63" r="1.8" fill="#7a1a26"/>
<circle cx="60.20" cy="283.90" r="1.8" fill="#7a1a26"/>
<circle cx="93.80" cy="280.33" r="1.8" fill="#7a1a26"/>
<circle cx="119.00" cy="280.94" r="1.8" fill="#7a1a26"/>
<circle cx="152.60" cy="278.69" r="1.8" fill="#7a1a26"/>
<polyline points="43.40,289.63 60.20,283.90 93.80,267.31 119.00,245.34 152.60,231.19" fill="none" stroke="#111111" stroke-width="0.9"/>
<line x1="43.40" y1="288.76" x2="43.40" y2="290.49" stroke="#111111" stroke-width="0.6" stroke-linecap="butt"/>
<line x1="41.80" y1="288.76" x2="45.00" y2="288.76" stroke="#111111" stroke-width="0.6" stroke-linecap="butt"/>
<line x1="41.80" y1="290.49" x2="45.00" y2="290.49" stroke="#111111" stroke-width="0.6" stroke-linecap="butt"/>
<line x1="60.20" y1="282.59" x2="60.20" y2="285.20" stroke="#111111" stroke-width="0.6" stroke-linecap="butt"/>
<line x1="58.60" y1="282.59" x2="61.80" y2="282.59" stroke="#111111" stroke-width="0.6" stroke-linecap="butt"/>
<line x1="58.60" y1="285.20" x2="61.80" y2="285.20" stroke="#111111" stroke-width="0.6" stroke-linecap="butt"/>
<line x1="93.80" y1="264.27" x2="93.80" y2="270.35" stroke="#111111" stroke-width="0.6" stroke-linecap="butt"/>
<line x1="92.20" y1="264.27" x2="95.40" y2="264.27" stroke="#111111" stroke-width="0.6" stroke-linecap="butt"/>
<line x1="92.20" y1="270.35" x2="95.40" y2="270.35" stroke="#111111" stroke-width="0.6" stroke-linecap="butt"/>
<line x1="119.00" y1="239.26" x2="119.00" y2="251.42" stroke="#111111" stroke-width="0.6" stroke-linecap="butt"/>
<line x1="117.40" y1="239.26" x2="120.60" y2="239.26" stroke="#111111" stroke-width="0.6" stroke-linecap="butt"/>
<line x1="117.40" y1="251.42" x2="120.60" y2="251.42" stroke="#111111" stroke-width="0.6" stroke-linecap="butt"/>
<line x1="152.60" y1="222.07" x2="152.60" y2="240.30" stroke="#111111" stroke-width="0.6" stroke-linecap="butt"/>
<line x1="151.00" y1="222.07" x2="154.20" y2="222.07" stroke="#111111" stroke-width="0.6" stroke-linecap="butt"/>
<line x1="151.00" y1="240.30" x2="154.20" y2="240.30" stroke="#111111" stroke-width="0.6" stroke-linecap="butt"/>
<circle cx="43.40" cy="289.63" r="1.8" fill="#111111"/>
<circle cx="60.20" cy="283.90" r="1.8" fill="#111111"/>
<circle cx="93.80" cy="267.31" r="1.8" fill="#111111"/>
<circle cx="119.00" cy="245.34" r="1.8" fill="#111111"/>
<circle cx="152.60" cy="231.19" r="1.8" fill="#111111"/>
<line x1="78.70" y1="190.40" x2="87.70" y2="190.40" stroke="#111111" stroke-width="0.9" stroke-linecap="butt"/>
<circle cx="83.20" cy="190.40" r="1.5" fill="#111111"/>
<text x="89.70" y="192.42" font-size="5.6" text-anchor="start" font-weight="normal" fill="#2e2e2e" stroke="#2e2e2e" stroke-width="0.12">Vehicle</text>
<line x1="78.70" y1="197.80" x2="87.70" y2="197.80" stroke="#9a2834" stroke-width="0.9" stroke-linecap="butt"/>
<circle cx="83.20" cy="197.80" r="1.5" fill="#7a1a26"/>
<text x="89.70" y="199.82" font-size="5.6" text-anchor="start" font-weight="normal" fill="#2e2e2e" stroke="#2e2e2e" stroke-width="0.12">JDQ443, 100 mg/kg p.o. q.d.</text>
<line x1="78.70" y1="205.20" x2="87.70" y2="205.20" stroke="#cf8a62" stroke-width="0.9" stroke-linecap="butt"/>
<polygon points="83.20,203.48 81.56,206.41 84.84,206.41" fill="#fff" stroke="#cf8a62" stroke-width="0.7"/>
<text x="89.70" y="207.22" font-size="5.6" text-anchor="start" font-weight="normal" fill="#2e2e2e" stroke="#2e2e2e" stroke-width="0.12">JDQ443, 50 mg/kg p.o. b.i.d.</text>
<text x="157.00" y="280.70" font-size="6.4" text-anchor="middle" font-weight="bold" fill="#8e1a28" stroke="#8e1a28" stroke-width="0">*</text>
<text x="157.00" y="287.90" font-size="6.4" text-anchor="middle" font-weight="bold" fill="#3a63a3" stroke="#3a63a3" stroke-width="0">*</text>
<text x="177.60" y="189.06" font-size="10.4" font-weight="bold" fill="#111">E</text>
<line x1="210.10" y1="209.60" x2="210.10" y2="314.70" stroke="#1a1a1a" stroke-width="1.1" stroke-linecap="butt"/>
<line x1="208.30" y1="314.20" x2="336.10" y2="314.20" stroke="#1a1a1a" stroke-width="1.1" stroke-linecap="butt"/>
<line x1="207.30" y1="314.20" x2="210.10" y2="314.20" stroke="#1a1a1a" stroke-width="1.0" stroke-linecap="butt"/>
<text x="204.80" y="316.72" font-size="7.0" text-anchor="end" font-weight="normal" fill="#222222" stroke="#222222" stroke-width="0.22">0</text>
<line x1="208.10" y1="303.79" x2="210.10" y2="303.79" stroke="#1a1a1a" stroke-width="1.0" stroke-linecap="butt"/>
<line x1="207.30" y1="293.38" x2="210.10" y2="293.38" stroke="#1a1a1a" stroke-width="1.0" stroke-linecap="butt"/>
<text x="204.80" y="295.90" font-size="7.0" text-anchor="end" font-weight="normal" fill="#222222" stroke="#222222" stroke-width="0.22">200</text>
<line x1="208.10" y1="282.97" x2="210.10" y2="282.97" stroke="#1a1a1a" stroke-width="1.0" stroke-linecap="butt"/>
<line x1="207.30" y1="272.56" x2="210.10" y2="272.56" stroke="#1a1a1a" stroke-width="1.0" stroke-linecap="butt"/>
<text x="204.80" y="275.08" font-size="7.0" text-anchor="end" font-weight="normal" fill="#222222" stroke="#222222" stroke-width="0.22">400</text>
<line x1="208.10" y1="262.15" x2="210.10" y2="262.15" stroke="#1a1a1a" stroke-width="1.0" stroke-linecap="butt"/>
<line x1="207.30" y1="251.74" x2="210.10" y2="251.74" stroke="#1a1a1a" stroke-width="1.0" stroke-linecap="butt"/>
<text x="204.80" y="254.26" font-size="7.0" text-anchor="end" font-weight="normal" fill="#222222" stroke="#222222" stroke-width="0.22">600</text>
<line x1="208.10" y1="241.33" x2="210.10" y2="241.33" stroke="#1a1a1a" stroke-width="1.0" stroke-linecap="butt"/>
<line x1="207.30" y1="230.92" x2="210.10" y2="230.92" stroke="#1a1a1a" stroke-width="1.0" stroke-linecap="butt"/>
<text x="204.80" y="233.44" font-size="7.0" text-anchor="end" font-weight="normal" fill="#222222" stroke="#222222" stroke-width="0.22">800</text>
<line x1="208.10" y1="220.51" x2="210.10" y2="220.51" stroke="#1a1a1a" stroke-width="1.0" stroke-linecap="butt"/>
<line x1="207.30" y1="210.10" x2="210.10" y2="210.10" stroke="#1a1a1a" stroke-width="1.0" stroke-linecap="butt"/>
<text x="204.80" y="212.62" font-size="7.0" text-anchor="end" font-weight="normal" fill="#222222" stroke="#222222" stroke-width="0.22">1,000</text>
<line x1="214.50" y1="314.20" x2="214.50" y2="317.00" stroke="#1a1a1a" stroke-width="1.0" stroke-linecap="butt"/>
<text x="214.50" y="325.52" font-size="7.0" text-anchor="middle" font-weight="normal" fill="#222222" stroke="#222222" stroke-width="0.22">0</text>
<line x1="223.15" y1="314.20" x2="223.15" y2="316.20" stroke="#1a1a1a" stroke-width="1.0" stroke-linecap="butt"/>
<line x1="231.80" y1="314.20" x2="231.80" y2="317.00" stroke="#1a1a1a" stroke-width="1.0" stroke-linecap="butt"/>
<text x="231.80" y="325.52" font-size="7.0" text-anchor="middle" font-weight="normal" fill="#222222" stroke="#222222" stroke-width="0.22">2</text>
<line x1="240.45" y1="314.20" x2="240.45" y2="316.20" stroke="#1a1a1a" stroke-width="1.0" stroke-linecap="butt"/>
<line x1="249.10" y1="314.20" x2="249.10" y2="317.00" stroke="#1a1a1a" stroke-width="1.0" stroke-linecap="butt"/>
<text x="249.10" y="325.52" font-size="7.0" text-anchor="middle" font-weight="normal" fill="#222222" stroke="#222222" stroke-width="0.22">4</text>
<line x1="257.75" y1="314.20" x2="257.75" y2="316.20" stroke="#1a1a1a" stroke-width="1.0" stroke-linecap="butt"/>
<line x1="266.40" y1="314.20" x2="266.40" y2="317.00" stroke="#1a1a1a" stroke-width="1.0" stroke-linecap="butt"/>
<text x="266.40" y="325.52" font-size="7.0" text-anchor="middle" font-weight="normal" fill="#222222" stroke="#222222" stroke-width="0.22">6</text>
<line x1="275.05" y1="314.20" x2="275.05" y2="316.20" stroke="#1a1a1a" stroke-width="1.0" stroke-linecap="butt"/>
<line x1="283.70" y1="314.20" x2="283.70" y2="317.00" stroke="#1a1a1a" stroke-width="1.0" stroke-linecap="butt"/>
<text x="283.70" y="325.52" font-size="7.0" text-anchor="middle" font-weight="normal" fill="#222222" stroke="#222222" stroke-width="0.22">8</text>
<line x1="292.35" y1="314.20" x2="292.35" y2="316.20" stroke="#1a1a1a" stroke-width="1.0" stroke-linecap="butt"/>
<line x1="301.00" y1="314.20" x2="301.00" y2="317.00" stroke="#1a1a1a" stroke-width="1.0" stroke-linecap="butt"/>
<text x="301.00" y="325.52" font-size="7.0" text-anchor="middle" font-weight="normal" fill="#222222" stroke="#222222" stroke-width="0.22">10</text>
<line x1="309.65" y1="314.20" x2="309.65" y2="316.20" stroke="#1a1a1a" stroke-width="1.0" stroke-linecap="butt"/>
<line x1="318.30" y1="314.20" x2="318.30" y2="317.00" stroke="#1a1a1a" stroke-width="1.0" stroke-linecap="butt"/>
<text x="318.30" y="325.52" font-size="7.0" text-anchor="middle" font-weight="normal" fill="#222222" stroke="#222222" stroke-width="0.22">12</text>
<line x1="326.95" y1="314.20" x2="326.95" y2="316.20" stroke="#1a1a1a" stroke-width="1.0" stroke-linecap="butt"/>
<line x1="335.60" y1="314.20" x2="335.60" y2="317.00" stroke="#1a1a1a" stroke-width="1.0" stroke-linecap="butt"/>
<text x="335.60" y="325.52" font-size="7.0" text-anchor="middle" font-weight="normal" fill="#222222" stroke="#222222" stroke-width="0.22">14</text>
<text x="182.80" y="264.81" font-size="7.8" text-anchor="middle" font-weight="normal" fill="#222222" stroke="#222222" stroke-width="0.22" transform="rotate(-90 182.80 262.00)">Mean tumor volume (mm<tspan font-size="5.2" dy="-3.2">3</tspan><tspan dy="3.2"> ± SEM)</tspan></text>
<text x="278.50" y="337.70" font-size="7.7" text-anchor="middle" font-weight="normal" fill="#222222" stroke="#222222" stroke-width="0.22">Treatment days</text>
<text x="215.60" y="215.02" font-size="7.0" text-anchor="start" font-weight="normal" fill="#222222" stroke="#222222" stroke-width="0.22">LU99</text>
<line x1="218.00" y1="292.90" x2="335.00" y2="292.90" stroke="#3a3a3a" stroke-width="1.1" stroke-linecap="butt" stroke-dasharray="1,1.4"/>
<polyline points="214.50,292.13 231.80,289.22 266.40,302.12 292.35,304.41 326.95,305.87" fill="none" stroke="#cf8a62" stroke-width="0.9"/>
<line x1="214.50" y1="291.09" x2="214.50" y2="293.17" stroke="#cf8a62" stroke-width="0.6" stroke-linecap="butt"/>
<line x1="212.90" y1="291.09" x2="216.10" y2="291.09" stroke="#cf8a62" stroke-width="0.6" stroke-linecap="butt"/>
<line x1="212.90" y1="293.17" x2="216.10" y2="293.17" stroke="#cf8a62" stroke-width="0.6" stroke-linecap="butt"/>
<line x1="231.80" y1="287.65" x2="231.80" y2="290.78" stroke="#cf8a62" stroke-width="0.6" stroke-linecap="butt"/>
<line x1="230.20" y1="287.65" x2="233.40" y2="287.65" stroke="#cf8a62" stroke-width="0.6" stroke-linecap="butt"/>
<line x1="230.20" y1="290.78" x2="233.40" y2="290.78" stroke="#cf8a62" stroke-width="0.6" stroke-linecap="butt"/>
<line x1="266.40" y1="300.56" x2="266.40" y2="303.69" stroke="#cf8a62" stroke-width="0.6" stroke-linecap="butt"/>
<line x1="264.80" y1="300.56" x2="268.00" y2="300.56" stroke="#cf8a62" stroke-width="0.6" stroke-linecap="butt"/>
<line x1="264.80" y1="303.69" x2="268.00" y2="303.69" stroke="#cf8a62" stroke-width="0.6" stroke-linecap="butt"/>
<line x1="292.35" y1="303.17" x2="292.35" y2="305.66" stroke="#cf8a62" stroke-width="0.6" stroke-linecap="butt"/>
<line x1="290.75" y1="303.17" x2="293.95" y2="303.17" stroke="#cf8a62" stroke-width="0.6" stroke-linecap="butt"/>
<line x1="290.75" y1="305.66" x2="293.95" y2="305.66" stroke="#cf8a62" stroke-width="0.6" stroke-linecap="butt"/>
<line x1="326.95" y1="304.62" x2="326.95" y2="307.12" stroke="#cf8a62" stroke-width="0.6" stroke-linecap="butt"/>
<line x1="325.35" y1="304.62" x2="328.55" y2="304.62" stroke="#cf8a62" stroke-width="0.6" stroke-linecap="butt"/>
<line x1="325.35" y1="307.12" x2="328.55" y2="307.12" stroke="#cf8a62" stroke-width="0.6" stroke-linecap="butt"/>
<polygon points="214.50,290.06 212.53,293.58 216.47,293.58" fill="#fff" stroke="#cf8a62" stroke-width="0.7"/>
<polygon points="231.80,287.15 229.83,290.67 233.77,290.67" fill="#fff" stroke="#cf8a62" stroke-width="0.7"/>
<polygon points="266.40,300.05 264.43,303.57 268.37,303.57" fill="#fff" stroke="#cf8a62" stroke-width="0.7"/>
<polygon points="292.35,302.34 290.38,305.86 294.32,305.86" fill="#fff" stroke="#cf8a62" stroke-width="0.7"/>
<polygon points="326.95,303.80 324.98,307.32 328.92,307.32" fill="#fff" stroke="#cf8a62" stroke-width="0.7"/>
<polyline points="214.50,292.13 231.80,288.38 266.40,299.83 292.35,303.06 326.95,304.41" fill="none" stroke="#9a2834" stroke-width="0.9"/>
<line x1="214.50" y1="291.09" x2="214.50" y2="293.17" stroke="#9a5a60" stroke-width="0.6" stroke-linecap="butt"/>
<line x1="212.90" y1="291.09" x2="216.10" y2="291.09" stroke="#9a5a60" stroke-width="0.6" stroke-linecap="butt"/>
<line x1="212.90" y1="293.17" x2="216.10" y2="293.17" stroke="#9a5a60" stroke-width="0.6" stroke-linecap="butt"/>
<line x1="231.80" y1="286.82" x2="231.80" y2="289.94" stroke="#9a5a60" stroke-width="0.6" stroke-linecap="butt"/>
<line x1="230.20" y1="286.82" x2="233.40" y2="286.82" stroke="#9a5a60" stroke-width="0.6" stroke-linecap="butt"/>
<line x1="230.20" y1="289.94" x2="233.40" y2="289.94" stroke="#9a5a60" stroke-width="0.6" stroke-linecap="butt"/>
<line x1="266.40" y1="298.27" x2="266.40" y2="301.40" stroke="#9a5a60" stroke-width="0.6" stroke-linecap="butt"/>
<line x1="264.80" y1="298.27" x2="268.00" y2="298.27" stroke="#9a5a60" stroke-width="0.6" stroke-linecap="butt"/>
<line x1="264.80" y1="301.40" x2="268.00" y2="301.40" stroke="#9a5a60" stroke-width="0.6" stroke-linecap="butt"/>
<line x1="292.35" y1="301.81" x2="292.35" y2="304.31" stroke="#9a5a60" stroke-width="0.6" stroke-linecap="butt"/>
<line x1="290.75" y1="301.81" x2="293.95" y2="301.81" stroke="#9a5a60" stroke-width="0.6" stroke-linecap="butt"/>
<line x1="290.75" y1="304.31" x2="293.95" y2="304.31" stroke="#9a5a60" stroke-width="0.6" stroke-linecap="butt"/>
<line x1="326.95" y1="302.85" x2="326.95" y2="305.98" stroke="#9a5a60" stroke-width="0.6" stroke-linecap="butt"/>
<line x1="325.35" y1="302.85" x2="328.55" y2="302.85" stroke="#9a5a60" stroke-width="0.6" stroke-linecap="butt"/>
<line x1="325.35" y1="305.98" x2="328.55" y2="305.98" stroke="#9a5a60" stroke-width="0.6" stroke-linecap="butt"/>
<circle cx="214.50" cy="292.13" r="1.8" fill="#7a1a26"/>
<circle cx="231.80" cy="288.38" r="1.8" fill="#7a1a26"/>
<circle cx="266.40" cy="299.83" r="1.8" fill="#7a1a26"/>
<circle cx="292.35" cy="303.06" r="1.8" fill="#7a1a26"/>
<circle cx="326.95" cy="304.41" r="1.8" fill="#7a1a26"/>
<polyline points="214.50,292.13 231.80,279.12 266.40,264.75 292.35,256.74 326.95,235.19" fill="none" stroke="#111111" stroke-width="0.9"/>
<line x1="214.50" y1="291.09" x2="214.50" y2="293.17" stroke="#111111" stroke-width="0.6" stroke-linecap="butt"/>
<line x1="212.90" y1="291.09" x2="216.10" y2="291.09" stroke="#111111" stroke-width="0.6" stroke-linecap="butt"/>
<line x1="212.90" y1="293.17" x2="216.10" y2="293.17" stroke="#111111" stroke-width="0.6" stroke-linecap="butt"/>
<line x1="231.80" y1="278.08" x2="231.80" y2="280.16" stroke="#111111" stroke-width="0.6" stroke-linecap="butt"/>
<line x1="230.20" y1="278.08" x2="233.40" y2="278.08" stroke="#111111" stroke-width="0.6" stroke-linecap="butt"/>
<line x1="230.20" y1="280.16" x2="233.40" y2="280.16" stroke="#111111" stroke-width="0.6" stroke-linecap="butt"/>
<line x1="266.40" y1="261.63" x2="266.40" y2="267.88" stroke="#111111" stroke-width="0.6" stroke-linecap="butt"/>
<line x1="264.80" y1="261.63" x2="268.00" y2="261.63" stroke="#111111" stroke-width="0.6" stroke-linecap="butt"/>
<line x1="264.80" y1="267.88" x2="268.00" y2="267.88" stroke="#111111" stroke-width="0.6" stroke-linecap="butt"/>
<line x1="292.35" y1="251.01" x2="292.35" y2="262.46" stroke="#111111" stroke-width="0.6" stroke-linecap="butt"/>
<line x1="290.75" y1="251.01" x2="293.95" y2="251.01" stroke="#111111" stroke-width="0.6" stroke-linecap="butt"/>
<line x1="290.75" y1="262.46" x2="293.95" y2="262.46" stroke="#111111" stroke-width="0.6" stroke-linecap="butt"/>
<line x1="326.95" y1="221.66" x2="326.95" y2="248.72" stroke="#111111" stroke-width="0.6" stroke-linecap="butt"/>
<line x1="325.35" y1="221.66" x2="328.55" y2="221.66" stroke="#111111" stroke-width="0.6" stroke-linecap="butt"/>
<line x1="325.35" y1="248.72" x2="328.55" y2="248.72" stroke="#111111" stroke-width="0.6" stroke-linecap="butt"/>
<circle cx="214.50" cy="292.13" r="1.8" fill="#111111"/>
<circle cx="231.80" cy="279.12" r="1.8" fill="#111111"/>
<circle cx="266.40" cy="264.75" r="1.8" fill="#111111"/>
<circle cx="292.35" cy="256.74" r="1.8" fill="#111111"/>
<circle cx="326.95" cy="235.19" r="1.8" fill="#111111"/>
<line x1="253.10" y1="190.40" x2="262.10" y2="190.40" stroke="#111111" stroke-width="0.9" stroke-linecap="butt"/>
<circle cx="257.60" cy="190.40" r="1.5" fill="#111111"/>
<text x="264.10" y="192.42" font-size="5.6" text-anchor="start" font-weight="normal" fill="#2e2e2e" stroke="#2e2e2e" stroke-width="0.12">Vehicle</text>
<line x1="253.10" y1="197.80" x2="262.10" y2="197.80" stroke="#9a2834" stroke-width="0.9" stroke-linecap="butt"/>
<circle cx="257.60" cy="197.80" r="1.5" fill="#7a1a26"/>
<text x="264.10" y="199.82" font-size="5.6" text-anchor="start" font-weight="normal" fill="#2e2e2e" stroke="#2e2e2e" stroke-width="0.12">JDQ443, 100 mg/kg p.o. q.d.</text>
<line x1="253.10" y1="205.20" x2="262.10" y2="205.20" stroke="#cf8a62" stroke-width="0.9" stroke-linecap="butt"/>
<polygon points="257.60,203.48 255.96,206.41 259.24,206.41" fill="#fff" stroke="#cf8a62" stroke-width="0.7"/>
<text x="264.10" y="207.22" font-size="5.6" text-anchor="start" font-weight="normal" fill="#2e2e2e" stroke="#2e2e2e" stroke-width="0.12">JDQ443, 50 mg/kg p.o. b.i.d.</text>
<text x="333.80" y="307.30" font-size="6.4" text-anchor="middle" font-weight="bold" fill="#222" stroke="#222" stroke-width="0">*</text>
<text x="333.80" y="311.30" font-size="6.4" text-anchor="middle" font-weight="bold" fill="#222" stroke="#222" stroke-width="0">*</text>
<text x="352.10" y="189.36" font-size="10.4" font-weight="bold" fill="#111">F</text>
<line x1="382.40" y1="209.50" x2="382.40" y2="314.70" stroke="#1a1a1a" stroke-width="1.1" stroke-linecap="butt"/>
<line x1="381.00" y1="314.20" x2="509.70" y2="314.20" stroke="#1a1a1a" stroke-width="1.1" stroke-linecap="butt"/>
<line x1="379.60" y1="314.20" x2="382.40" y2="314.20" stroke="#1a1a1a" stroke-width="1.0" stroke-linecap="butt"/>
<text x="378.00" y="316.72" font-size="7.0" text-anchor="end" font-weight="normal" fill="#222222" stroke="#222222" stroke-width="0.22">0</text>
<line x1="380.40" y1="301.18" x2="382.40" y2="301.18" stroke="#1a1a1a" stroke-width="1.0" stroke-linecap="butt"/>
<line x1="379.60" y1="288.15" x2="382.40" y2="288.15" stroke="#1a1a1a" stroke-width="1.0" stroke-linecap="butt"/>
<text x="378.00" y="290.67" font-size="7.0" text-anchor="end" font-weight="normal" fill="#222222" stroke="#222222" stroke-width="0.22">200</text>
<line x1="380.40" y1="275.12" x2="382.40" y2="275.12" stroke="#1a1a1a" stroke-width="1.0" stroke-linecap="butt"/>
<line x1="379.60" y1="262.10" x2="382.40" y2="262.10" stroke="#1a1a1a" stroke-width="1.0" stroke-linecap="butt"/>
<text x="378.00" y="264.62" font-size="7.0" text-anchor="end" font-weight="normal" fill="#222222" stroke="#222222" stroke-width="0.22">400</text>
<line x1="380.40" y1="249.07" x2="382.40" y2="249.07" stroke="#1a1a1a" stroke-width="1.0" stroke-linecap="butt"/>
<line x1="379.60" y1="236.05" x2="382.40" y2="236.05" stroke="#1a1a1a" stroke-width="1.0" stroke-linecap="butt"/>
<text x="378.00" y="238.57" font-size="7.0" text-anchor="end" font-weight="normal" fill="#222222" stroke="#222222" stroke-width="0.22">600</text>
<line x1="380.40" y1="223.02" x2="382.40" y2="223.02" stroke="#1a1a1a" stroke-width="1.0" stroke-linecap="butt"/>
<line x1="379.60" y1="210.00" x2="382.40" y2="210.00" stroke="#1a1a1a" stroke-width="1.0" stroke-linecap="butt"/>
<text x="378.00" y="212.52" font-size="7.0" text-anchor="end" font-weight="normal" fill="#222222" stroke="#222222" stroke-width="0.22">800</text>
<line x1="386.00" y1="314.20" x2="386.00" y2="317.00" stroke="#1a1a1a" stroke-width="1.0" stroke-linecap="butt"/>
<text x="386.00" y="325.52" font-size="7.0" text-anchor="middle" font-weight="normal" fill="#222222" stroke="#222222" stroke-width="0.22">0</text>
<line x1="392.84" y1="314.20" x2="392.84" y2="316.20" stroke="#1a1a1a" stroke-width="1.0" stroke-linecap="butt"/>
<line x1="399.69" y1="314.20" x2="399.69" y2="317.00" stroke="#1a1a1a" stroke-width="1.0" stroke-linecap="butt"/>
<text x="399.69" y="325.52" font-size="7.0" text-anchor="middle" font-weight="normal" fill="#222222" stroke="#222222" stroke-width="0.22">2</text>
<line x1="406.53" y1="314.20" x2="406.53" y2="316.20" stroke="#1a1a1a" stroke-width="1.0" stroke-linecap="butt"/>
<line x1="413.38" y1="314.20" x2="413.38" y2="317.00" stroke="#1a1a1a" stroke-width="1.0" stroke-linecap="butt"/>
<text x="413.38" y="325.52" font-size="7.0" text-anchor="middle" font-weight="normal" fill="#222222" stroke="#222222" stroke-width="0.22">4</text>
<line x1="420.22" y1="314.20" x2="420.22" y2="316.20" stroke="#1a1a1a" stroke-width="1.0" stroke-linecap="butt"/>
<line x1="427.07" y1="314.20" x2="427.07" y2="317.00" stroke="#1a1a1a" stroke-width="1.0" stroke-linecap="butt"/>
<text x="427.07" y="325.52" font-size="7.0" text-anchor="middle" font-weight="normal" fill="#222222" stroke="#222222" stroke-width="0.22">6</text>
<line x1="433.91" y1="314.20" x2="433.91" y2="316.20" stroke="#1a1a1a" stroke-width="1.0" stroke-linecap="butt"/>
<line x1="440.76" y1="314.20" x2="440.76" y2="317.00" stroke="#1a1a1a" stroke-width="1.0" stroke-linecap="butt"/>
<text x="440.76" y="325.52" font-size="7.0" text-anchor="middle" font-weight="normal" fill="#222222" stroke="#222222" stroke-width="0.22">8</text>
<line x1="447.60" y1="314.20" x2="447.60" y2="316.20" stroke="#1a1a1a" stroke-width="1.0" stroke-linecap="butt"/>
<line x1="454.44" y1="314.20" x2="454.44" y2="317.00" stroke="#1a1a1a" stroke-width="1.0" stroke-linecap="butt"/>
<text x="454.44" y="325.52" font-size="7.0" text-anchor="middle" font-weight="normal" fill="#222222" stroke="#222222" stroke-width="0.22">10</text>
<line x1="461.29" y1="314.20" x2="461.29" y2="316.20" stroke="#1a1a1a" stroke-width="1.0" stroke-linecap="butt"/>
<line x1="468.13" y1="314.20" x2="468.13" y2="317.00" stroke="#1a1a1a" stroke-width="1.0" stroke-linecap="butt"/>
<text x="468.13" y="325.52" font-size="7.0" text-anchor="middle" font-weight="normal" fill="#222222" stroke="#222222" stroke-width="0.22">12</text>
<line x1="474.98" y1="314.20" x2="474.98" y2="316.20" stroke="#1a1a1a" stroke-width="1.0" stroke-linecap="butt"/>
<line x1="481.82" y1="314.20" x2="481.82" y2="317.00" stroke="#1a1a1a" stroke-width="1.0" stroke-linecap="butt"/>
<text x="481.82" y="325.52" font-size="7.0" text-anchor="middle" font-weight="normal" fill="#222222" stroke="#222222" stroke-width="0.22">14</text>
<line x1="488.67" y1="314.20" x2="488.67" y2="316.20" stroke="#1a1a1a" stroke-width="1.0" stroke-linecap="butt"/>
<line x1="495.51" y1="314.20" x2="495.51" y2="317.00" stroke="#1a1a1a" stroke-width="1.0" stroke-linecap="butt"/>
<text x="495.51" y="325.52" font-size="7.0" text-anchor="middle" font-weight="normal" fill="#222222" stroke="#222222" stroke-width="0.22">16</text>
<line x1="502.36" y1="314.20" x2="502.36" y2="316.20" stroke="#1a1a1a" stroke-width="1.0" stroke-linecap="butt"/>
<line x1="509.20" y1="314.20" x2="509.20" y2="317.00" stroke="#1a1a1a" stroke-width="1.0" stroke-linecap="butt"/>
<text x="509.20" y="325.52" font-size="7.0" text-anchor="middle" font-weight="normal" fill="#222222" stroke="#222222" stroke-width="0.22">18</text>
<text x="356.00" y="264.41" font-size="7.8" text-anchor="middle" font-weight="normal" fill="#222222" stroke="#222222" stroke-width="0.22" transform="rotate(-90 356.00 261.60)">Mean tumor volume (mm<tspan font-size="5.2" dy="-3.2">3</tspan><tspan dy="3.2"> ± SEM)</tspan></text>
<text x="448.70" y="337.40" font-size="7.7" text-anchor="middle" font-weight="normal" fill="#222222" stroke="#222222" stroke-width="0.22">Treatment days</text>
<text x="386.50" y="214.52" font-size="7.0" text-anchor="start" font-weight="normal" fill="#222222" stroke="#222222" stroke-width="0.22">LU99</text>
<line x1="390.00" y1="292.20" x2="508.00" y2="292.20" stroke="#3a3a3a" stroke-width="1.1" stroke-linecap="butt" stroke-dasharray="1,1.4"/>
<polyline points="386.00,291.41 412.01,298.31 431.17,302.09 457.18,303.00 477.03,305.73 503.04,303.00" fill="none" stroke="#9a2834" stroke-width="0.9"/>
<line x1="386.00" y1="290.10" x2="386.00" y2="292.71" stroke="#9a5a60" stroke-width="0.6" stroke-linecap="butt"/>
<line x1="384.40" y1="290.10" x2="387.60" y2="290.10" stroke="#9a5a60" stroke-width="0.6" stroke-linecap="butt"/>
<line x1="384.40" y1="292.71" x2="387.60" y2="292.71" stroke="#9a5a60" stroke-width="0.6" stroke-linecap="butt"/>
<line x1="412.01" y1="296.36" x2="412.01" y2="300.26" stroke="#9a5a60" stroke-width="0.6" stroke-linecap="butt"/>
<line x1="410.41" y1="296.36" x2="413.61" y2="296.36" stroke="#9a5a60" stroke-width="0.6" stroke-linecap="butt"/>
<line x1="410.41" y1="300.26" x2="413.61" y2="300.26" stroke="#9a5a60" stroke-width="0.6" stroke-linecap="butt"/>
<line x1="431.17" y1="300.13" x2="431.17" y2="304.04" stroke="#9a5a60" stroke-width="0.6" stroke-linecap="butt"/>
<line x1="429.57" y1="300.13" x2="432.77" y2="300.13" stroke="#9a5a60" stroke-width="0.6" stroke-linecap="butt"/>
<line x1="429.57" y1="304.04" x2="432.77" y2="304.04" stroke="#9a5a60" stroke-width="0.6" stroke-linecap="butt"/>
<line x1="457.18" y1="301.44" x2="457.18" y2="304.56" stroke="#9a5a60" stroke-width="0.6" stroke-linecap="butt"/>
<line x1="455.58" y1="301.44" x2="458.78" y2="301.44" stroke="#9a5a60" stroke-width="0.6" stroke-linecap="butt"/>
<line x1="455.58" y1="304.56" x2="458.78" y2="304.56" stroke="#9a5a60" stroke-width="0.6" stroke-linecap="butt"/>
<line x1="477.03" y1="304.69" x2="477.03" y2="306.78" stroke="#9a5a60" stroke-width="0.6" stroke-linecap="butt"/>
<line x1="475.43" y1="304.69" x2="478.63" y2="304.69" stroke="#9a5a60" stroke-width="0.6" stroke-linecap="butt"/>
<line x1="475.43" y1="306.78" x2="478.63" y2="306.78" stroke="#9a5a60" stroke-width="0.6" stroke-linecap="butt"/>
<line x1="503.04" y1="301.96" x2="503.04" y2="304.04" stroke="#9a5a60" stroke-width="0.6" stroke-linecap="butt"/>
<line x1="501.44" y1="301.96" x2="504.64" y2="301.96" stroke="#9a5a60" stroke-width="0.6" stroke-linecap="butt"/>
<line x1="501.44" y1="304.04" x2="504.64" y2="304.04" stroke="#9a5a60" stroke-width="0.6" stroke-linecap="butt"/>
<circle cx="386.00" cy="291.41" r="1.8" fill="#7a1a26"/>
<circle cx="412.01" cy="298.31" r="1.8" fill="#7a1a26"/>
<circle cx="431.17" cy="302.09" r="1.8" fill="#7a1a26"/>
<circle cx="457.18" cy="303.00" r="1.8" fill="#7a1a26"/>
<circle cx="477.03" cy="305.73" r="1.8" fill="#7a1a26"/>
<circle cx="503.04" cy="303.00" r="1.8" fill="#7a1a26"/>
<polyline points="386.00,291.41 412.01,290.89 431.17,291.02 457.18,283.85 477.03,276.17 503.04,256.63" fill="none" stroke="#3a63a3" stroke-width="0.9"/>
<line x1="386.00" y1="290.10" x2="386.00" y2="292.71" stroke="#3a63a3" stroke-width="0.6" stroke-linecap="butt"/>
<line x1="384.40" y1="290.10" x2="387.60" y2="290.10" stroke="#3a63a3" stroke-width="0.6" stroke-linecap="butt"/>
<line x1="384.40" y1="292.71" x2="387.60" y2="292.71" stroke="#3a63a3" stroke-width="0.6" stroke-linecap="butt"/>
<line x1="412.01" y1="288.93" x2="412.01" y2="292.84" stroke="#3a63a3" stroke-width="0.6" stroke-linecap="butt"/>
<line x1="410.41" y1="288.93" x2="413.61" y2="288.93" stroke="#3a63a3" stroke-width="0.6" stroke-linecap="butt"/>
<line x1="410.41" y1="292.84" x2="413.61" y2="292.84" stroke="#3a63a3" stroke-width="0.6" stroke-linecap="butt"/>
<line x1="431.17" y1="289.06" x2="431.17" y2="292.97" stroke="#3a63a3" stroke-width="0.6" stroke-linecap="butt"/>
<line x1="429.57" y1="289.06" x2="432.77" y2="289.06" stroke="#3a63a3" stroke-width="0.6" stroke-linecap="butt"/>
<line x1="429.57" y1="292.97" x2="432.77" y2="292.97" stroke="#3a63a3" stroke-width="0.6" stroke-linecap="butt"/>
<line x1="457.18" y1="281.25" x2="457.18" y2="286.46" stroke="#3a63a3" stroke-width="0.6" stroke-linecap="butt"/>
<line x1="455.58" y1="281.25" x2="458.78" y2="281.25" stroke="#3a63a3" stroke-width="0.6" stroke-linecap="butt"/>
<line x1="455.58" y1="286.46" x2="458.78" y2="286.46" stroke="#3a63a3" stroke-width="0.6" stroke-linecap="butt"/>
<line x1="477.03" y1="272.26" x2="477.03" y2="280.07" stroke="#3a63a3" stroke-width="0.6" stroke-linecap="butt"/>
<line x1="475.43" y1="272.26" x2="478.63" y2="272.26" stroke="#3a63a3" stroke-width="0.6" stroke-linecap="butt"/>
<line x1="475.43" y1="280.07" x2="478.63" y2="280.07" stroke="#3a63a3" stroke-width="0.6" stroke-linecap="butt"/>
<line x1="503.04" y1="245.56" x2="503.04" y2="267.70" stroke="#3a63a3" stroke-width="0.6" stroke-linecap="butt"/>
<line x1="501.44" y1="245.56" x2="504.64" y2="245.56" stroke="#3a63a3" stroke-width="0.6" stroke-linecap="butt"/>
<line x1="501.44" y1="267.70" x2="504.64" y2="267.70" stroke="#3a63a3" stroke-width="0.6" stroke-linecap="butt"/>
<circle cx="386.00" cy="291.41" r="1.8" fill="#284b8a"/>
<circle cx="412.01" cy="290.89" r="1.8" fill="#284b8a"/>
<circle cx="431.17" cy="291.02" r="1.8" fill="#284b8a"/>
<circle cx="457.18" cy="283.85" r="1.8" fill="#284b8a"/>
<circle cx="477.03" cy="276.17" r="1.8" fill="#284b8a"/>
<circle cx="503.04" cy="256.63" r="1.8" fill="#284b8a"/>
<polyline points="386.00,291.41 412.01,277.47 431.17,271.22 457.18,252.72 477.03,239.96 503.04,222.76" fill="none" stroke="#111111" stroke-width="0.9"/>
<line x1="386.00" y1="290.10" x2="386.00" y2="292.71" stroke="#111111" stroke-width="0.6" stroke-linecap="butt"/>
<line x1="384.40" y1="290.10" x2="387.60" y2="290.10" stroke="#111111" stroke-width="0.6" stroke-linecap="butt"/>
<line x1="384.40" y1="292.71" x2="387.60" y2="292.71" stroke="#111111" stroke-width="0.6" stroke-linecap="butt"/>
<line x1="412.01" y1="272.91" x2="412.01" y2="282.03" stroke="#111111" stroke-width="0.6" stroke-linecap="butt"/>
<line x1="410.41" y1="272.91" x2="413.61" y2="272.91" stroke="#111111" stroke-width="0.6" stroke-linecap="butt"/>
<line x1="410.41" y1="282.03" x2="413.61" y2="282.03" stroke="#111111" stroke-width="0.6" stroke-linecap="butt"/>
<line x1="431.17" y1="265.36" x2="431.17" y2="277.08" stroke="#111111" stroke-width="0.6" stroke-linecap="butt"/>
<line x1="429.57" y1="265.36" x2="432.77" y2="265.36" stroke="#111111" stroke-width="0.6" stroke-linecap="butt"/>
<line x1="429.57" y1="277.08" x2="432.77" y2="277.08" stroke="#111111" stroke-width="0.6" stroke-linecap="butt"/>
<line x1="457.18" y1="242.30" x2="457.18" y2="263.14" stroke="#111111" stroke-width="0.6" stroke-linecap="butt"/>
<line x1="455.58" y1="242.30" x2="458.78" y2="242.30" stroke="#111111" stroke-width="0.6" stroke-linecap="butt"/>
<line x1="455.58" y1="263.14" x2="458.78" y2="263.14" stroke="#111111" stroke-width="0.6" stroke-linecap="butt"/>
<line x1="477.03" y1="230.19" x2="477.03" y2="249.73" stroke="#111111" stroke-width="0.6" stroke-linecap="butt"/>
<line x1="475.43" y1="230.19" x2="478.63" y2="230.19" stroke="#111111" stroke-width="0.6" stroke-linecap="butt"/>
<line x1="475.43" y1="249.73" x2="478.63" y2="249.73" stroke="#111111" stroke-width="0.6" stroke-linecap="butt"/>
<line x1="503.04" y1="211.04" x2="503.04" y2="234.49" stroke="#111111" stroke-width="0.6" stroke-linecap="butt"/>
<line x1="501.44" y1="211.04" x2="504.64" y2="211.04" stroke="#111111" stroke-width="0.6" stroke-linecap="butt"/>
<line x1="501.44" y1="234.49" x2="504.64" y2="234.49" stroke="#111111" stroke-width="0.6" stroke-linecap="butt"/>
<circle cx="386.00" cy="291.41" r="1.8" fill="#111111"/>
<circle cx="412.01" cy="277.47" r="1.8" fill="#111111"/>
<circle cx="431.17" cy="271.22" r="1.8" fill="#111111"/>
<circle cx="457.18" cy="252.72" r="1.8" fill="#111111"/>
<circle cx="477.03" cy="239.96" r="1.8" fill="#111111"/>
<circle cx="503.04" cy="222.76" r="1.8" fill="#111111"/>
<line x1="428.70" y1="191.30" x2="437.70" y2="191.30" stroke="#111111" stroke-width="0.9" stroke-linecap="butt"/>
<circle cx="433.20" cy="191.30" r="1.5" fill="#111111"/>
<text x="439.70" y="193.32" font-size="5.6" text-anchor="start" font-weight="normal" fill="#2e2e2e" stroke="#2e2e2e" stroke-width="0.12">Vehicle</text>
<line x1="428.70" y1="198.40" x2="437.70" y2="198.40" stroke="#3a63a3" stroke-width="0.9" stroke-linecap="butt"/>
<circle cx="433.20" cy="198.40" r="1.5" fill="#284b8a"/>
<text x="439.70" y="200.42" font-size="5.6" text-anchor="start" font-weight="normal" fill="#2e2e2e" stroke="#2e2e2e" stroke-width="0.12">JDQ443, 30 mg/kg p.o. q.d.</text>
<line x1="428.70" y1="205.50" x2="437.70" y2="205.50" stroke="#9a2834" stroke-width="0.9" stroke-linecap="butt"/>
<circle cx="433.20" cy="205.50" r="1.5" fill="#7a1a26"/>
<text x="439.70" y="207.52" font-size="5.6" text-anchor="start" font-weight="normal" fill="#2e2e2e" stroke="#2e2e2e" stroke-width="0.12">JDQ443, 100 mg/kg p.o. q.d.</text>
<text x="507.60" y="260.40" font-size="6.4" text-anchor="middle" font-weight="bold" fill="#222" stroke="#222" stroke-width="0">*</text>
<text x="507.60" y="306.90" font-size="6.4" text-anchor="middle" font-weight="bold" fill="#222" stroke="#222" stroke-width="0">*</text>
<line x1="513.40" y1="256.30" x2="513.40" y2="303.40" stroke="#444" stroke-width="0.7" stroke-linecap="butt"/>
<line x1="510.80" y1="256.30" x2="513.40" y2="256.30" stroke="#444" stroke-width="0.7" stroke-linecap="butt"/>
<line x1="510.80" y1="303.40" x2="513.40" y2="303.40" stroke="#444" stroke-width="0.7" stroke-linecap="butt"/>
<text x="517.70" y="284.14" font-size="7.6" text-anchor="middle" font-weight="normal" fill="#222222" stroke="#222222" stroke-width="0.22" transform="rotate(-90 517.70 281.40)">#</text>
<text x="3.30" y="354.56" font-size="10.4" font-weight="bold" fill="#111">G</text>
<line x1="34.80" y1="377.80" x2="34.80" y2="483.10" stroke="#1a1a1a" stroke-width="1.1" stroke-linecap="butt"/>
<line x1="33.50" y1="482.60" x2="160.80" y2="482.60" stroke="#1a1a1a" stroke-width="1.1" stroke-linecap="butt"/>
<line x1="32.00" y1="482.60" x2="34.80" y2="482.60" stroke="#1a1a1a" stroke-width="1.0" stroke-linecap="butt"/>
<text x="29.40" y="485.12" font-size="7.0" text-anchor="end" font-weight="normal" fill="#222222" stroke="#222222" stroke-width="0.22">0</text>
<line x1="32.80" y1="469.56" x2="34.80" y2="469.56" stroke="#1a1a1a" stroke-width="1.0" stroke-linecap="butt"/>
<line x1="32.00" y1="456.53" x2="34.80" y2="456.53" stroke="#1a1a1a" stroke-width="1.0" stroke-linecap="butt"/>
<text x="29.40" y="459.05" font-size="7.0" text-anchor="end" font-weight="normal" fill="#222222" stroke="#222222" stroke-width="0.22">200</text>
<line x1="32.80" y1="443.49" x2="34.80" y2="443.49" stroke="#1a1a1a" stroke-width="1.0" stroke-linecap="butt"/>
<line x1="32.00" y1="430.45" x2="34.80" y2="430.45" stroke="#1a1a1a" stroke-width="1.0" stroke-linecap="butt"/>
<text x="29.40" y="432.97" font-size="7.0" text-anchor="end" font-weight="normal" fill="#222222" stroke="#222222" stroke-width="0.22">400</text>
<line x1="32.80" y1="417.41" x2="34.80" y2="417.41" stroke="#1a1a1a" stroke-width="1.0" stroke-linecap="butt"/>
<line x1="32.00" y1="404.38" x2="34.80" y2="404.38" stroke="#1a1a1a" stroke-width="1.0" stroke-linecap="butt"/>
<text x="29.40" y="406.89" font-size="7.0" text-anchor="end" font-weight="normal" fill="#222222" stroke="#222222" stroke-width="0.22">600</text>
<line x1="32.80" y1="391.34" x2="34.80" y2="391.34" stroke="#1a1a1a" stroke-width="1.0" stroke-linecap="butt"/>
<line x1="32.00" y1="378.30" x2="34.80" y2="378.30" stroke="#1a1a1a" stroke-width="1.0" stroke-linecap="butt"/>
<text x="29.40" y="380.82" font-size="7.0" text-anchor="end" font-weight="normal" fill="#222222" stroke="#222222" stroke-width="0.22">800</text>
<line x1="39.40" y1="482.60" x2="39.40" y2="485.40" stroke="#1a1a1a" stroke-width="1.0" stroke-linecap="butt"/>
<text x="39.40" y="493.12" font-size="7.0" text-anchor="middle" font-weight="normal" fill="#222222" stroke="#222222" stroke-width="0.22">0</text>
<line x1="48.04" y1="482.60" x2="48.04" y2="484.60" stroke="#1a1a1a" stroke-width="1.0" stroke-linecap="butt"/>
<line x1="56.67" y1="482.60" x2="56.67" y2="485.40" stroke="#1a1a1a" stroke-width="1.0" stroke-linecap="butt"/>
<text x="56.67" y="493.12" font-size="7.0" text-anchor="middle" font-weight="normal" fill="#222222" stroke="#222222" stroke-width="0.22">2</text>
<line x1="65.31" y1="482.60" x2="65.31" y2="484.60" stroke="#1a1a1a" stroke-width="1.0" stroke-linecap="butt"/>
<line x1="73.94" y1="482.60" x2="73.94" y2="485.40" stroke="#1a1a1a" stroke-width="1.0" stroke-linecap="butt"/>
<text x="73.94" y="493.12" font-size="7.0" text-anchor="middle" font-weight="normal" fill="#222222" stroke="#222222" stroke-width="0.22">4</text>
<line x1="82.58" y1="482.60" x2="82.58" y2="484.60" stroke="#1a1a1a" stroke-width="1.0" stroke-linecap="butt"/>
<line x1="91.21" y1="482.60" x2="91.21" y2="485.40" stroke="#1a1a1a" stroke-width="1.0" stroke-linecap="butt"/>
<text x="91.21" y="493.12" font-size="7.0" text-anchor="middle" font-weight="normal" fill="#222222" stroke="#222222" stroke-width="0.22">6</text>
<line x1="99.85" y1="482.60" x2="99.85" y2="484.60" stroke="#1a1a1a" stroke-width="1.0" stroke-linecap="butt"/>
<line x1="108.49" y1="482.60" x2="108.49" y2="485.40" stroke="#1a1a1a" stroke-width="1.0" stroke-linecap="butt"/>
<text x="108.49" y="493.12" font-size="7.0" text-anchor="middle" font-weight="normal" fill="#222222" stroke="#222222" stroke-width="0.22">8</text>
<line x1="117.12" y1="482.60" x2="117.12" y2="484.60" stroke="#1a1a1a" stroke-width="1.0" stroke-linecap="butt"/>
<line x1="125.76" y1="482.60" x2="125.76" y2="485.40" stroke="#1a1a1a" stroke-width="1.0" stroke-linecap="butt"/>
<text x="125.76" y="493.12" font-size="7.0" text-anchor="middle" font-weight="normal" fill="#222222" stroke="#222222" stroke-width="0.22">10</text>
<line x1="134.39" y1="482.60" x2="134.39" y2="484.60" stroke="#1a1a1a" stroke-width="1.0" stroke-linecap="butt"/>
<line x1="143.03" y1="482.60" x2="143.03" y2="485.40" stroke="#1a1a1a" stroke-width="1.0" stroke-linecap="butt"/>
<text x="143.03" y="493.12" font-size="7.0" text-anchor="middle" font-weight="normal" fill="#222222" stroke="#222222" stroke-width="0.22">12</text>
<line x1="151.66" y1="482.60" x2="151.66" y2="484.60" stroke="#1a1a1a" stroke-width="1.0" stroke-linecap="butt"/>
<line x1="160.30" y1="482.60" x2="160.30" y2="485.40" stroke="#1a1a1a" stroke-width="1.0" stroke-linecap="butt"/>
<text x="160.30" y="493.12" font-size="7.0" text-anchor="middle" font-weight="normal" fill="#222222" stroke="#222222" stroke-width="0.22">14</text>
<text x="6.90" y="432.31" font-size="7.8" text-anchor="middle" font-weight="normal" fill="#222222" stroke="#222222" stroke-width="0.22" transform="rotate(-90 6.90 429.50)">Mean tumor volume (mm<tspan font-size="5.2" dy="-3.2">3</tspan><tspan dy="3.2"> ± SEM)</tspan></text>
<text x="103.50" y="506.70" font-size="7.7" text-anchor="middle" font-weight="normal" fill="#222222" stroke="#222222" stroke-width="0.22">Treatment days</text>
<text x="39.80" y="383.22" font-size="7.0" text-anchor="start" font-weight="normal" fill="#222222" stroke="#222222" stroke-width="0.22">LU99</text>
<line x1="40.00" y1="444.70" x2="159.10" y2="444.70" stroke="#3a3a3a" stroke-width="1.1" stroke-linecap="butt" stroke-dasharray="1,1.4"/>
<polyline points="39.40,444.92 61.85,451.31 96.40,460.44 122.30,469.69 148.21,470.48" fill="none" stroke="#9a2834" stroke-width="0.9"/>
<line x1="39.40" y1="441.01" x2="39.40" y2="448.83" stroke="#9a5a60" stroke-width="0.6" stroke-linecap="butt"/>
<line x1="37.80" y1="441.01" x2="41.00" y2="441.01" stroke="#9a5a60" stroke-width="0.6" stroke-linecap="butt"/>
<line x1="37.80" y1="448.83" x2="41.00" y2="448.83" stroke="#9a5a60" stroke-width="0.6" stroke-linecap="butt"/>
<line x1="61.85" y1="450.27" x2="61.85" y2="452.35" stroke="#9a5a60" stroke-width="0.6" stroke-linecap="butt"/>
<line x1="60.25" y1="450.27" x2="63.45" y2="450.27" stroke="#9a5a60" stroke-width="0.6" stroke-linecap="butt"/>
<line x1="60.25" y1="452.35" x2="63.45" y2="452.35" stroke="#9a5a60" stroke-width="0.6" stroke-linecap="butt"/>
<line x1="96.40" y1="459.39" x2="96.40" y2="461.48" stroke="#9a5a60" stroke-width="0.6" stroke-linecap="butt"/>
<line x1="94.80" y1="459.39" x2="98.00" y2="459.39" stroke="#9a5a60" stroke-width="0.6" stroke-linecap="butt"/>
<line x1="94.80" y1="461.48" x2="98.00" y2="461.48" stroke="#9a5a60" stroke-width="0.6" stroke-linecap="butt"/>
<line x1="122.30" y1="468.65" x2="122.30" y2="470.74" stroke="#9a5a60" stroke-width="0.6" stroke-linecap="butt"/>
<line x1="120.70" y1="468.65" x2="123.90" y2="468.65" stroke="#9a5a60" stroke-width="0.6" stroke-linecap="butt"/>
<line x1="120.70" y1="470.74" x2="123.90" y2="470.74" stroke="#9a5a60" stroke-width="0.6" stroke-linecap="butt"/>
<line x1="148.21" y1="469.43" x2="148.21" y2="471.52" stroke="#9a5a60" stroke-width="0.6" stroke-linecap="butt"/>
<line x1="146.61" y1="469.43" x2="149.81" y2="469.43" stroke="#9a5a60" stroke-width="0.6" stroke-linecap="butt"/>
<line x1="146.61" y1="471.52" x2="149.81" y2="471.52" stroke="#9a5a60" stroke-width="0.6" stroke-linecap="butt"/>
<circle cx="39.40" cy="444.92" r="1.8" fill="#7a1a26"/>
<circle cx="61.85" cy="451.31" r="1.8" fill="#7a1a26"/>
<circle cx="96.40" cy="460.44" r="1.8" fill="#7a1a26"/>
<circle cx="122.30" cy="469.69" r="1.8" fill="#7a1a26"/>
<circle cx="148.21" cy="470.48" r="1.8" fill="#7a1a26"/>
<polyline points="39.40,444.92 61.85,447.66 96.40,445.96 122.30,434.75 148.21,433.45" fill="none" stroke="#3a63a3" stroke-width="0.9"/>
<line x1="39.40" y1="441.01" x2="39.40" y2="448.83" stroke="#3a63a3" stroke-width="0.6" stroke-linecap="butt"/>
<line x1="37.80" y1="441.01" x2="41.00" y2="441.01" stroke="#3a63a3" stroke-width="0.6" stroke-linecap="butt"/>
<line x1="37.80" y1="448.83" x2="41.00" y2="448.83" stroke="#3a63a3" stroke-width="0.6" stroke-linecap="butt"/>
<line x1="61.85" y1="445.70" x2="61.85" y2="449.62" stroke="#3a63a3" stroke-width="0.6" stroke-linecap="butt"/>
<line x1="60.25" y1="445.70" x2="63.45" y2="445.70" stroke="#3a63a3" stroke-width="0.6" stroke-linecap="butt"/>
<line x1="60.25" y1="449.62" x2="63.45" y2="449.62" stroke="#3a63a3" stroke-width="0.6" stroke-linecap="butt"/>
<line x1="96.40" y1="444.92" x2="96.40" y2="447.01" stroke="#3a63a3" stroke-width="0.6" stroke-linecap="butt"/>
<line x1="94.80" y1="444.92" x2="98.00" y2="444.92" stroke="#3a63a3" stroke-width="0.6" stroke-linecap="butt"/>
<line x1="94.80" y1="447.01" x2="98.00" y2="447.01" stroke="#3a63a3" stroke-width="0.6" stroke-linecap="butt"/>
<line x1="122.30" y1="430.19" x2="122.30" y2="439.32" stroke="#3a63a3" stroke-width="0.6" stroke-linecap="butt"/>
<line x1="120.70" y1="430.19" x2="123.90" y2="430.19" stroke="#3a63a3" stroke-width="0.6" stroke-linecap="butt"/>
<line x1="120.70" y1="439.32" x2="123.90" y2="439.32" stroke="#3a63a3" stroke-width="0.6" stroke-linecap="butt"/>
<line x1="148.21" y1="430.58" x2="148.21" y2="436.32" stroke="#3a63a3" stroke-width="0.6" stroke-linecap="butt"/>
<line x1="146.61" y1="430.58" x2="149.81" y2="430.58" stroke="#3a63a3" stroke-width="0.6" stroke-linecap="butt"/>
<line x1="146.61" y1="436.32" x2="149.81" y2="436.32" stroke="#3a63a3" stroke-width="0.6" stroke-linecap="butt"/>
<circle cx="39.40" cy="444.92" r="1.8" fill="#284b8a"/>
<circle cx="61.85" cy="447.66" r="1.8" fill="#284b8a"/>
<circle cx="96.40" cy="445.96" r="1.8" fill="#284b8a"/>
<circle cx="122.30" cy="434.75" r="1.8" fill="#284b8a"/>
<circle cx="148.21" cy="433.45" r="1.8" fill="#284b8a"/>
<polyline points="39.40,444.92 61.85,442.05 96.40,433.45 122.30,418.33 148.21,409.20" fill="none" stroke="#111111" stroke-width="0.9"/>
<line x1="39.40" y1="441.01" x2="39.40" y2="448.83" stroke="#111111" stroke-width="0.6" stroke-linecap="butt"/>
<line x1="37.80" y1="441.01" x2="41.00" y2="441.01" stroke="#111111" stroke-width="0.6" stroke-linecap="butt"/>
<line x1="37.80" y1="448.83" x2="41.00" y2="448.83" stroke="#111111" stroke-width="0.6" stroke-linecap="butt"/>
<line x1="61.85" y1="438.79" x2="61.85" y2="445.31" stroke="#111111" stroke-width="0.6" stroke-linecap="butt"/>
<line x1="60.25" y1="438.79" x2="63.45" y2="438.79" stroke="#111111" stroke-width="0.6" stroke-linecap="butt"/>
<line x1="60.25" y1="445.31" x2="63.45" y2="445.31" stroke="#111111" stroke-width="0.6" stroke-linecap="butt"/>
<line x1="96.40" y1="431.49" x2="96.40" y2="435.40" stroke="#111111" stroke-width="0.6" stroke-linecap="butt"/>
<line x1="94.80" y1="431.49" x2="98.00" y2="431.49" stroke="#111111" stroke-width="0.6" stroke-linecap="butt"/>
<line x1="94.80" y1="435.40" x2="98.00" y2="435.40" stroke="#111111" stroke-width="0.6" stroke-linecap="butt"/>
<line x1="122.30" y1="414.41" x2="122.30" y2="422.24" stroke="#111111" stroke-width="0.6" stroke-linecap="butt"/>
<line x1="120.70" y1="414.41" x2="123.90" y2="414.41" stroke="#111111" stroke-width="0.6" stroke-linecap="butt"/>
<line x1="120.70" y1="422.24" x2="123.90" y2="422.24" stroke="#111111" stroke-width="0.6" stroke-linecap="butt"/>
<line x1="148.21" y1="405.94" x2="148.21" y2="412.46" stroke="#111111" stroke-width="0.6" stroke-linecap="butt"/>
<line x1="146.61" y1="405.94" x2="149.81" y2="405.94" stroke="#111111" stroke-width="0.6" stroke-linecap="butt"/>
<line x1="146.61" y1="412.46" x2="149.81" y2="412.46" stroke="#111111" stroke-width="0.6" stroke-linecap="butt"/>
<circle cx="39.40" cy="444.92" r="1.8" fill="#111111"/>
<circle cx="61.85" cy="442.05" r="1.8" fill="#111111"/>
<circle cx="96.40" cy="433.45" r="1.8" fill="#111111"/>
<circle cx="122.30" cy="418.33" r="1.8" fill="#111111"/>
<circle cx="148.21" cy="409.20" r="1.8" fill="#111111"/>
<line x1="79.20" y1="353.10" x2="88.20" y2="353.10" stroke="#111111" stroke-width="0.9" stroke-linecap="butt"/>
<circle cx="83.70" cy="353.10" r="1.5" fill="#111111"/>
<text x="90.20" y="355.12" font-size="5.6" text-anchor="start" font-weight="normal" fill="#2e2e2e" stroke="#2e2e2e" stroke-width="0.12">Vehicle infusion</text>
<line x1="79.20" y1="360.30" x2="88.20" y2="360.30" stroke="#3a63a3" stroke-width="0.9" stroke-linecap="butt"/>
<circle cx="83.70" cy="360.30" r="1.5" fill="#284b8a"/>
<text x="90.20" y="362.32" font-size="5.6" text-anchor="start" font-weight="normal" fill="#2e2e2e" stroke="#2e2e2e" stroke-width="0.12">JDQ443, 3 mg/mL infusion</text>
<line x1="79.20" y1="367.50" x2="88.20" y2="367.50" stroke="#9a2834" stroke-width="0.9" stroke-linecap="butt"/>
<circle cx="83.70" cy="367.50" r="1.5" fill="#7a1a26"/>
<text x="90.20" y="369.52" font-size="5.6" text-anchor="start" font-weight="normal" fill="#2e2e2e" stroke="#2e2e2e" stroke-width="0.12">JDQ443, 10 mg/mL infusion</text>
<text x="152.90" y="436.40" font-size="6.4" text-anchor="middle" font-weight="bold" fill="#3a63a3" stroke="#3a63a3" stroke-width="0">*</text>
<text x="152.90" y="472.70" font-size="6.4" text-anchor="middle" font-weight="bold" fill="#8e1a28" stroke="#8e1a28" stroke-width="0">*</text>
<line x1="161.90" y1="433.50" x2="161.90" y2="470.60" stroke="#444" stroke-width="0.7" stroke-linecap="butt"/>
<line x1="159.40" y1="433.50" x2="161.90" y2="433.50" stroke="#444" stroke-width="0.7" stroke-linecap="butt"/>
<line x1="159.40" y1="470.60" x2="161.90" y2="470.60" stroke="#444" stroke-width="0.7" stroke-linecap="butt"/>
<text x="165.80" y="457.04" font-size="7.6" text-anchor="middle" font-weight="normal" fill="#222222" stroke="#222222" stroke-width="0.22" transform="rotate(-90 165.80 454.30)">#</text>
<text x="177.20" y="354.56" font-size="10.4" font-weight="bold" fill="#111">H</text>
<line x1="210.10" y1="377.34" x2="210.10" y2="483.20" stroke="#1a1a1a" stroke-width="1.1" stroke-linecap="butt"/>
<line x1="209.60" y1="482.70" x2="335.40" y2="482.70" stroke="#1a1a1a" stroke-width="1.1" stroke-linecap="butt"/>
<line x1="207.30" y1="377.84" x2="210.10" y2="377.84" stroke="#1a1a1a" stroke-width="1.0" stroke-linecap="butt"/>
<text x="205.70" y="380.36" font-size="7.0" text-anchor="end" font-weight="normal" fill="#222222" stroke="#222222" stroke-width="0.22">−100</text>
<line x1="208.10" y1="388.33" x2="210.10" y2="388.33" stroke="#1a1a1a" stroke-width="1.0" stroke-linecap="butt"/>
<line x1="207.30" y1="398.82" x2="210.10" y2="398.82" stroke="#1a1a1a" stroke-width="1.0" stroke-linecap="butt"/>
<text x="205.70" y="401.34" font-size="7.0" text-anchor="end" font-weight="normal" fill="#222222" stroke="#222222" stroke-width="0.22">−50</text>
<line x1="208.10" y1="409.31" x2="210.10" y2="409.31" stroke="#1a1a1a" stroke-width="1.0" stroke-linecap="butt"/>
<line x1="207.30" y1="419.80" x2="210.10" y2="419.80" stroke="#1a1a1a" stroke-width="1.0" stroke-linecap="butt"/>
<text x="205.70" y="422.32" font-size="7.0" text-anchor="end" font-weight="normal" fill="#222222" stroke="#222222" stroke-width="0.22">0</text>
<line x1="208.10" y1="430.29" x2="210.10" y2="430.29" stroke="#1a1a1a" stroke-width="1.0" stroke-linecap="butt"/>
<line x1="207.30" y1="440.78" x2="210.10" y2="440.78" stroke="#1a1a1a" stroke-width="1.0" stroke-linecap="butt"/>
<text x="205.70" y="443.30" font-size="7.0" text-anchor="end" font-weight="normal" fill="#222222" stroke="#222222" stroke-width="0.22">50</text>
<line x1="208.10" y1="451.27" x2="210.10" y2="451.27" stroke="#1a1a1a" stroke-width="1.0" stroke-linecap="butt"/>
<line x1="207.30" y1="461.76" x2="210.10" y2="461.76" stroke="#1a1a1a" stroke-width="1.0" stroke-linecap="butt"/>
<text x="205.70" y="464.28" font-size="7.0" text-anchor="end" font-weight="normal" fill="#222222" stroke="#222222" stroke-width="0.22">100</text>
<line x1="208.10" y1="472.25" x2="210.10" y2="472.25" stroke="#1a1a1a" stroke-width="1.0" stroke-linecap="butt"/>
<line x1="207.30" y1="482.74" x2="210.10" y2="482.74" stroke="#1a1a1a" stroke-width="1.0" stroke-linecap="butt"/>
<text x="205.70" y="485.26" font-size="7.0" text-anchor="end" font-weight="normal" fill="#222222" stroke="#222222" stroke-width="0.22">150</text>
<line x1="210.10" y1="482.70" x2="210.10" y2="485.50" stroke="#1a1a1a" stroke-width="1.0" stroke-linecap="butt"/>
<text x="210.10" y="495.32" font-size="7.0" text-anchor="middle" font-weight="normal" fill="#222222" stroke="#222222" stroke-width="0.22">0</text>
<line x1="225.70" y1="482.70" x2="225.70" y2="484.70" stroke="#1a1a1a" stroke-width="1.0" stroke-linecap="butt"/>
<line x1="241.30" y1="482.70" x2="241.30" y2="485.50" stroke="#1a1a1a" stroke-width="1.0" stroke-linecap="butt"/>
<text x="241.30" y="495.32" font-size="7.0" text-anchor="middle" font-weight="normal" fill="#222222" stroke="#222222" stroke-width="0.22">10</text>
<line x1="256.90" y1="482.70" x2="256.90" y2="484.70" stroke="#1a1a1a" stroke-width="1.0" stroke-linecap="butt"/>
<line x1="272.50" y1="482.70" x2="272.50" y2="485.50" stroke="#1a1a1a" stroke-width="1.0" stroke-linecap="butt"/>
<text x="272.50" y="495.32" font-size="7.0" text-anchor="middle" font-weight="normal" fill="#222222" stroke="#222222" stroke-width="0.22">20</text>
<line x1="288.10" y1="482.70" x2="288.10" y2="484.70" stroke="#1a1a1a" stroke-width="1.0" stroke-linecap="butt"/>
<line x1="303.70" y1="482.70" x2="303.70" y2="485.50" stroke="#1a1a1a" stroke-width="1.0" stroke-linecap="butt"/>
<text x="303.70" y="495.32" font-size="7.0" text-anchor="middle" font-weight="normal" fill="#222222" stroke="#222222" stroke-width="0.22">30</text>
<line x1="319.30" y1="482.70" x2="319.30" y2="484.70" stroke="#1a1a1a" stroke-width="1.0" stroke-linecap="butt"/>
<line x1="334.90" y1="482.70" x2="334.90" y2="485.50" stroke="#1a1a1a" stroke-width="1.0" stroke-linecap="butt"/>
<text x="334.90" y="495.32" font-size="7.0" text-anchor="middle" font-weight="normal" fill="#222222" stroke="#222222" stroke-width="0.22">40</text>
<text x="184.80" y="401.64" font-size="7.9" text-anchor="middle" font-weight="normal" fill="#222222" stroke="#222222" stroke-width="0.22" transform="rotate(-90 184.80 398.80)">%Regr.</text>
<text x="184.20" y="462.04" font-size="7.6" text-anchor="middle" font-weight="normal" fill="#222222" stroke="#222222" stroke-width="0.22" transform="rotate(-90 184.20 459.30)">%T/C</text>
<text x="274.20" y="506.50" font-size="7.8" text-anchor="middle" font-weight="normal" fill="#222222" stroke="#222222" stroke-width="0.22">Daily AUC (µmol/L*h)</text>
<line x1="213.10" y1="419.20" x2="334.90" y2="419.20" stroke="#1a1a1a" stroke-width="1.2" stroke-linecap="butt" stroke-dasharray="1.4,2.5"/>
<circle cx="220.40" cy="354.40" r="1.4249999999999998" fill="#fff" stroke="#3a63a3" stroke-width="0.7"/>
<text x="225.40" y="356.47" font-size="5.75" text-anchor="start" font-weight="normal" fill="#2e2e2e" stroke="#2e2e2e" stroke-width="0.12">Infusion of 3 mg/mL</text>
<circle cx="220.40" cy="361.40" r="1.4249999999999998" fill="#fff" stroke="#8e1a28" stroke-width="0.7"/>
<text x="225.40" y="363.47" font-size="5.75" text-anchor="start" font-weight="normal" fill="#2e2e2e" stroke="#2e2e2e" stroke-width="0.12">Infusion of 10 mg/mL</text>
<circle cx="220.40" cy="368.60" r="1.5" fill="#d3262e"/>
<text x="225.40" y="370.67" font-size="5.75" text-anchor="start" font-weight="normal" fill="#2e2e2e" stroke="#2e2e2e" stroke-width="0.12">p.o. 10 mg/kg q.d.</text>
<circle cx="289.50" cy="354.40" r="1.5" fill="#3a63a3"/>
<text x="292.60" y="356.47" font-size="5.75" text-anchor="start" font-weight="normal" fill="#2e2e2e" stroke="#2e2e2e" stroke-width="0.12">p.o. 30 mg/kg q.d.</text>
<circle cx="289.50" cy="361.40" r="1.5" fill="#7a1518"/>
<text x="292.60" y="363.47" font-size="5.75" text-anchor="start" font-weight="normal" fill="#2e2e2e" stroke="#2e2e2e" stroke-width="0.12">p.o. 100 mg/kg q.d.</text>
<polygon points="289.50,366.88 287.86,369.81 291.14,369.81" fill="#fff" stroke="#cf8a62" stroke-width="0.7"/>
<text x="292.60" y="370.67" font-size="5.75" text-anchor="start" font-weight="normal" fill="#2e2e2e" stroke="#2e2e2e" stroke-width="0.12">p.o. 50 mg/kg b.i.d.</text>
<rect x="277.40" y="392.30" width="36.00" height="3.20" fill="#efd9c8"/>
<line x1="277.40" y1="391.40" x2="277.40" y2="396.40" stroke="#d9a98a" stroke-width="0.7" stroke-linecap="butt"/>
<line x1="313.40" y1="391.40" x2="313.40" y2="396.40" stroke="#d9a98a" stroke-width="0.7" stroke-linecap="butt"/>
<line x1="295.90" y1="385.20" x2="295.90" y2="404.20" stroke="#9a3a40" stroke-width="0.8" stroke-linecap="butt"/>
<line x1="293.90" y1="385.20" x2="297.90" y2="385.20" stroke="#9a3a40" stroke-width="0.8" stroke-linecap="butt"/>
<line x1="293.90" y1="404.20" x2="297.90" y2="404.20" stroke="#9a3a40" stroke-width="0.8" stroke-linecap="butt"/>
<line x1="296.50" y1="390.70" x2="316.60" y2="390.70" stroke="#b05055" stroke-width="0.7" stroke-linecap="butt"/>
<line x1="296.50" y1="389.30" x2="296.50" y2="392.10" stroke="#b05055" stroke-width="0.7" stroke-linecap="butt"/>
<line x1="316.60" y1="389.30" x2="316.60" y2="392.10" stroke="#b05055" stroke-width="0.7" stroke-linecap="butt"/>
<line x1="306.00" y1="387.00" x2="306.00" y2="394.40" stroke="#b05055" stroke-width="0.7" stroke-linecap="butt"/>
<line x1="304.40" y1="387.00" x2="307.60" y2="387.00" stroke="#b05055" stroke-width="0.7" stroke-linecap="butt"/>
<line x1="304.40" y1="394.40" x2="307.60" y2="394.40" stroke="#b05055" stroke-width="0.7" stroke-linecap="butt"/>
<circle cx="306.00" cy="390.70" r="1.7" fill="#fff" stroke="#a8353a" stroke-width="0.8"/>
<circle cx="295.90" cy="393.90" r="1.9" fill="#7a1518"/>
<circle cx="295.90" cy="393.90" r="0.7" fill="#f3e0e0"/>
<line x1="236.80" y1="427.60" x2="236.80" y2="439.50" stroke="#5a78b0" stroke-width="0.8" stroke-linecap="butt"/>
<line x1="235.00" y1="427.60" x2="238.60" y2="427.60" stroke="#5a78b0" stroke-width="0.8" stroke-linecap="butt"/>
<line x1="235.00" y1="439.50" x2="238.60" y2="439.50" stroke="#5a78b0" stroke-width="0.8" stroke-linecap="butt"/>
<line x1="231.60" y1="434.10" x2="241.90" y2="434.10" stroke="#5a78b0" stroke-width="0.8" stroke-linecap="butt"/>
<line x1="231.60" y1="432.60" x2="231.60" y2="435.60" stroke="#5a78b0" stroke-width="0.8" stroke-linecap="butt"/>
<line x1="241.90" y1="432.60" x2="241.90" y2="435.60" stroke="#5a78b0" stroke-width="0.8" stroke-linecap="butt"/>
<circle cx="238.00" cy="434.10" r="1.7" fill="#fff" stroke="#4a6aa8" stroke-width="0.8"/>
<circle cx="236.30" cy="434.10" r="1.8" fill="#1f3f7a"/>
<line x1="219.20" y1="441.40" x2="219.20" y2="470.00" stroke="#c05060" stroke-width="0.9" stroke-linecap="butt"/>
<line x1="217.20" y1="441.40" x2="221.20" y2="441.40" stroke="#c05060" stroke-width="0.9" stroke-linecap="butt"/>
<line x1="217.20" y1="470.00" x2="221.20" y2="470.00" stroke="#c05060" stroke-width="0.9" stroke-linecap="butt"/>
<rect x="217.40" y="453.90" width="3.60" height="3.60" fill="#e0284a"/>
<text x="351.50" y="354.56" font-size="10.4" font-weight="bold" fill="#111">I</text>
<line x1="382.80" y1="377.34" x2="382.80" y2="483.20" stroke="#1a1a1a" stroke-width="1.1" stroke-linecap="butt"/>
<line x1="382.30" y1="482.70" x2="509.70" y2="482.70" stroke="#1a1a1a" stroke-width="1.1" stroke-linecap="butt"/>
<line x1="380.00" y1="377.84" x2="382.80" y2="377.84" stroke="#1a1a1a" stroke-width="1.0" stroke-linecap="butt"/>
<text x="378.40" y="380.36" font-size="7.0" text-anchor="end" font-weight="normal" fill="#222222" stroke="#222222" stroke-width="0.22">−100</text>
<line x1="380.80" y1="388.33" x2="382.80" y2="388.33" stroke="#1a1a1a" stroke-width="1.0" stroke-linecap="butt"/>
<line x1="380.00" y1="398.82" x2="382.80" y2="398.82" stroke="#1a1a1a" stroke-width="1.0" stroke-linecap="butt"/>
<text x="378.40" y="401.34" font-size="7.0" text-anchor="end" font-weight="normal" fill="#222222" stroke="#222222" stroke-width="0.22">−50</text>
<line x1="380.80" y1="409.31" x2="382.80" y2="409.31" stroke="#1a1a1a" stroke-width="1.0" stroke-linecap="butt"/>
<line x1="380.00" y1="419.80" x2="382.80" y2="419.80" stroke="#1a1a1a" stroke-width="1.0" stroke-linecap="butt"/>
<text x="378.40" y="422.32" font-size="7.0" text-anchor="end" font-weight="normal" fill="#222222" stroke="#222222" stroke-width="0.22">0</text>
<line x1="380.80" y1="430.29" x2="382.80" y2="430.29" stroke="#1a1a1a" stroke-width="1.0" stroke-linecap="butt"/>
<line x1="380.00" y1="440.78" x2="382.80" y2="440.78" stroke="#1a1a1a" stroke-width="1.0" stroke-linecap="butt"/>
<text x="378.40" y="443.30" font-size="7.0" text-anchor="end" font-weight="normal" fill="#222222" stroke="#222222" stroke-width="0.22">50</text>
<line x1="380.80" y1="451.27" x2="382.80" y2="451.27" stroke="#1a1a1a" stroke-width="1.0" stroke-linecap="butt"/>
<line x1="380.00" y1="461.76" x2="382.80" y2="461.76" stroke="#1a1a1a" stroke-width="1.0" stroke-linecap="butt"/>
<text x="378.40" y="464.28" font-size="7.0" text-anchor="end" font-weight="normal" fill="#222222" stroke="#222222" stroke-width="0.22">100</text>
<line x1="380.80" y1="472.25" x2="382.80" y2="472.25" stroke="#1a1a1a" stroke-width="1.0" stroke-linecap="butt"/>
<line x1="380.00" y1="482.74" x2="382.80" y2="482.74" stroke="#1a1a1a" stroke-width="1.0" stroke-linecap="butt"/>
<text x="378.40" y="485.26" font-size="7.0" text-anchor="end" font-weight="normal" fill="#222222" stroke="#222222" stroke-width="0.22">150</text>
<line x1="382.80" y1="482.70" x2="382.80" y2="485.50" stroke="#1a1a1a" stroke-width="1.0" stroke-linecap="butt"/>
<text x="382.80" y="495.32" font-size="7.0" text-anchor="middle" font-weight="normal" fill="#222222" stroke="#222222" stroke-width="0.22">0</text>
<line x1="408.08" y1="482.70" x2="408.08" y2="485.50" stroke="#1a1a1a" stroke-width="1.0" stroke-linecap="butt"/>
<text x="408.08" y="495.32" font-size="7.0" text-anchor="middle" font-weight="normal" fill="#222222" stroke="#222222" stroke-width="0.22">20</text>
<line x1="433.36" y1="482.70" x2="433.36" y2="485.50" stroke="#1a1a1a" stroke-width="1.0" stroke-linecap="butt"/>
<text x="433.36" y="495.32" font-size="7.0" text-anchor="middle" font-weight="normal" fill="#222222" stroke="#222222" stroke-width="0.22">40</text>
<line x1="458.64" y1="482.70" x2="458.64" y2="485.50" stroke="#1a1a1a" stroke-width="1.0" stroke-linecap="butt"/>
<text x="458.64" y="495.32" font-size="7.0" text-anchor="middle" font-weight="normal" fill="#222222" stroke="#222222" stroke-width="0.22">60</text>
<line x1="483.92" y1="482.70" x2="483.92" y2="485.50" stroke="#1a1a1a" stroke-width="1.0" stroke-linecap="butt"/>
<text x="483.92" y="495.32" font-size="7.0" text-anchor="middle" font-weight="normal" fill="#222222" stroke="#222222" stroke-width="0.22">80</text>
<line x1="509.20" y1="482.70" x2="509.20" y2="485.50" stroke="#1a1a1a" stroke-width="1.0" stroke-linecap="butt"/>
<text x="509.20" y="495.32" font-size="7.0" text-anchor="middle" font-weight="normal" fill="#222222" stroke="#222222" stroke-width="0.22">100</text>
<text x="357.50" y="401.64" font-size="7.9" text-anchor="middle" font-weight="normal" fill="#222222" stroke="#222222" stroke-width="0.22" transform="rotate(-90 357.50 398.80)">%Regr.</text>
<text x="356.90" y="462.04" font-size="7.6" text-anchor="middle" font-weight="normal" fill="#222222" stroke="#222222" stroke-width="0.22" transform="rotate(-90 356.90 459.30)">%T/C</text>
<text x="452.00" y="506.80" font-size="7.8" text-anchor="middle" font-weight="normal" fill="#222222" stroke="#222222" stroke-width="0.22">Average %free KRAS<tspan font-size="5" dy="-4">G12C</tspan></text>
<line x1="385.80" y1="419.20" x2="509.20" y2="419.20" stroke="#1a1a1a" stroke-width="1.2" stroke-linecap="butt" stroke-dasharray="1.4,2.5"/>
<circle cx="395.50" cy="354.40" r="1.4249999999999998" fill="#fff" stroke="#3a63a3" stroke-width="0.7"/>
<text x="399.50" y="356.47" font-size="5.75" text-anchor="start" font-weight="normal" fill="#2e2e2e" stroke="#2e2e2e" stroke-width="0.12">Infusion of 3 mg/mL</text>
<circle cx="395.50" cy="361.40" r="1.4249999999999998" fill="#fff" stroke="#8e1a28" stroke-width="0.7"/>
<text x="399.50" y="363.47" font-size="5.75" text-anchor="start" font-weight="normal" fill="#2e2e2e" stroke="#2e2e2e" stroke-width="0.12">Infusion of 10 mg/mL</text>
<circle cx="395.50" cy="368.60" r="1.5" fill="#d3262e"/>
<text x="399.50" y="370.67" font-size="5.75" text-anchor="start" font-weight="normal" fill="#2e2e2e" stroke="#2e2e2e" stroke-width="0.12">p.o. 10 mg/kg q.d.</text>
<circle cx="461.20" cy="354.40" r="1.5" fill="#3a63a3"/>
<text x="466.20" y="356.47" font-size="5.75" text-anchor="start" font-weight="normal" fill="#2e2e2e" stroke="#2e2e2e" stroke-width="0.12">p.o. 30 mg/kg q.d.</text>
<circle cx="461.20" cy="361.40" r="1.5" fill="#7a1518"/>
<text x="466.20" y="363.47" font-size="5.75" text-anchor="start" font-weight="normal" fill="#2e2e2e" stroke="#2e2e2e" stroke-width="0.12">p.o. 100 mg/kg q.d.</text>
<polygon points="461.20,366.88 459.56,369.81 462.84,369.81" fill="#fff" stroke="#cf8a62" stroke-width="0.7"/>
<text x="466.20" y="370.67" font-size="5.75" text-anchor="start" font-weight="normal" fill="#2e2e2e" stroke="#2e2e2e" stroke-width="0.12">p.o. 50 mg/kg b.i.d.</text>
<line x1="396.50" y1="390.10" x2="403.40" y2="390.10" stroke="#a84850" stroke-width="0.7" stroke-linecap="butt"/>
<line x1="396.50" y1="388.80" x2="396.50" y2="391.40" stroke="#a84850" stroke-width="0.7" stroke-linecap="butt"/>
<line x1="403.40" y1="388.80" x2="403.40" y2="391.40" stroke="#a84850" stroke-width="0.7" stroke-linecap="butt"/>
<line x1="399.90" y1="386.70" x2="399.90" y2="393.60" stroke="#a84850" stroke-width="0.7" stroke-linecap="butt"/>
<line x1="398.40" y1="386.70" x2="401.40" y2="386.70" stroke="#a84850" stroke-width="0.7" stroke-linecap="butt"/>
<line x1="398.40" y1="393.60" x2="401.40" y2="393.60" stroke="#a84850" stroke-width="0.7" stroke-linecap="butt"/>
<circle cx="399.90" cy="390.10" r="1.7" fill="#fff" stroke="#a03840" stroke-width="0.8"/>
<rect x="404.90" y="390.60" width="5.00" height="4.40" fill="#e6d0b2"/>
<polygon points="407.30,391.20 405.69,394.09 408.92,394.09" fill="none" stroke="#c49060" stroke-width="0.6"/>
<line x1="420.70" y1="384.50" x2="420.70" y2="404.40" stroke="#9a3a40" stroke-width="0.8" stroke-linecap="butt"/>
<line x1="418.70" y1="384.50" x2="422.70" y2="384.50" stroke="#9a3a40" stroke-width="0.8" stroke-linecap="butt"/>
<line x1="418.70" y1="404.40" x2="422.70" y2="404.40" stroke="#9a3a40" stroke-width="0.8" stroke-linecap="butt"/>
<line x1="417.20" y1="394.90" x2="425.00" y2="394.90" stroke="#9a3a40" stroke-width="0.8" stroke-linecap="butt"/>
<line x1="417.20" y1="393.30" x2="417.20" y2="396.50" stroke="#9a3a40" stroke-width="0.8" stroke-linecap="butt"/>
<line x1="425.00" y1="393.30" x2="425.00" y2="396.50" stroke="#9a3a40" stroke-width="0.8" stroke-linecap="butt"/>
<circle cx="420.70" cy="394.90" r="1.9" fill="#7a1518"/>
<line x1="429.40" y1="434.00" x2="454.60" y2="434.00" stroke="#5a78b0" stroke-width="0.8" stroke-linecap="butt"/>
<line x1="429.40" y1="432.40" x2="429.40" y2="435.60" stroke="#5a78b0" stroke-width="0.8" stroke-linecap="butt"/>
<line x1="454.60" y1="432.40" x2="454.60" y2="435.60" stroke="#5a78b0" stroke-width="0.8" stroke-linecap="butt"/>
<line x1="434.40" y1="432.50" x2="434.40" y2="435.50" stroke="#5a78b0" stroke-width="0.7" stroke-linecap="butt"/>
<line x1="444.50" y1="432.50" x2="444.50" y2="435.50" stroke="#5a78b0" stroke-width="0.7" stroke-linecap="butt"/>
<line x1="440.50" y1="427.20" x2="440.50" y2="438.80" stroke="#5a78b0" stroke-width="0.8" stroke-linecap="butt"/>
<line x1="438.70" y1="427.20" x2="442.30" y2="427.20" stroke="#5a78b0" stroke-width="0.8" stroke-linecap="butt"/>
<line x1="438.70" y1="438.80" x2="442.30" y2="438.80" stroke="#5a78b0" stroke-width="0.8" stroke-linecap="butt"/>
<circle cx="442.40" cy="434.00" r="1.7" fill="#fff" stroke="#4a6aa8" stroke-width="0.8"/>
<circle cx="439.50" cy="434.00" r="1.8" fill="#1f3f7a"/>
<line x1="478.40" y1="441.40" x2="478.40" y2="469.80" stroke="#d04050" stroke-width="0.8" stroke-linecap="butt"/>
<line x1="476.40" y1="441.40" x2="480.40" y2="441.40" stroke="#d04050" stroke-width="0.8" stroke-linecap="butt"/>
<line x1="476.40" y1="469.80" x2="480.40" y2="469.80" stroke="#d04050" stroke-width="0.8" stroke-linecap="butt"/>
<line x1="473.40" y1="455.60" x2="483.50" y2="455.60" stroke="#d04050" stroke-width="0.8" stroke-linecap="butt"/>
<line x1="473.40" y1="454.00" x2="473.40" y2="457.20" stroke="#d04050" stroke-width="0.8" stroke-linecap="butt"/>
<line x1="483.50" y1="454.00" x2="483.50" y2="457.20" stroke="#d04050" stroke-width="0.8" stroke-linecap="butt"/>
<circle cx="478.40" cy="455.60" r="1.9" fill="#d0304a"/>
</svg>
</body></html>
